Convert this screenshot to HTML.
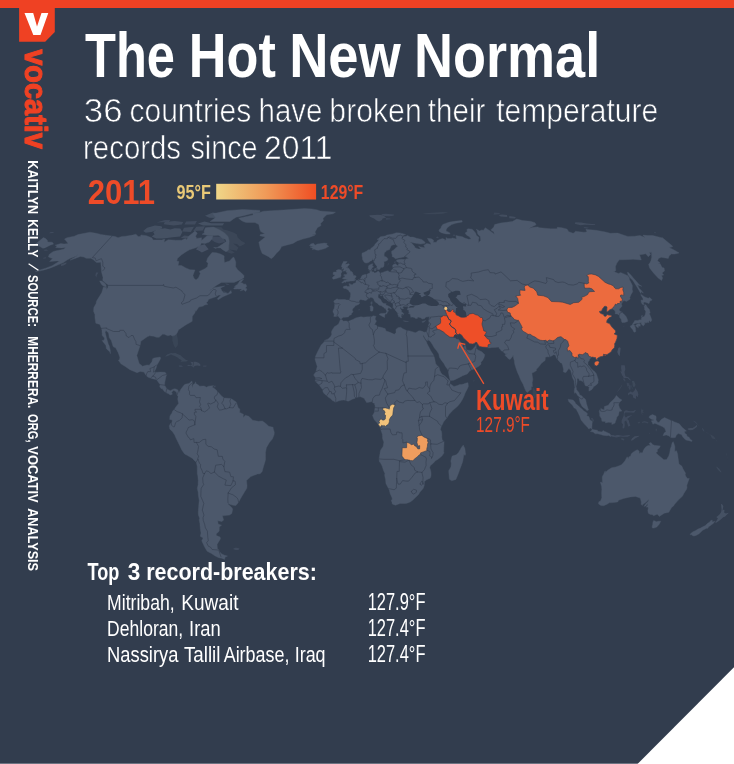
<!DOCTYPE html>
<html><head><meta charset="utf-8">
<style>
html,body{margin:0;padding:0;}
body{width:734px;height:764px;background:#323d4e;position:relative;overflow:hidden;}
svg{position:absolute;left:0;top:0;will-change:transform;}
text{font-family:"Liberation Sans",sans-serif;}
</style></head>
<body>
<svg width="734" height="764" viewBox="0 0 734 764">
<defs><linearGradient id="g" x1="0" x2="1" y1="0" y2="0"><stop offset="0" stop-color="#efd688"/><stop offset="0.5" stop-color="#f09a58"/><stop offset="1" stop-color="#f04e23"/></linearGradient></defs>
<rect x="0" y="0" width="734" height="764" fill="#323d4e"/>
<path d="M340.3,319.7L341.6,319.4L343.7,321.3L344.5,321.1L346.5,321.0L348.1,321.5L351.4,320.0L353.0,319.4L355.6,317.9L359.2,317.1L361.0,316.8L363.6,317.2L367.4,316.8L369.2,316.8L371.3,316.7L373.6,315.8L376.1,316.4L375.2,318.1L375.4,319.7L376.5,321.1L375.7,322.5L374.4,324.7L376.3,325.0L376.6,325.7L377.5,326.7L381.1,327.3L383.4,328.0L385.2,328.6L386.0,331.0L388.6,331.8L391.7,333.1L394.3,334.3L396.0,332.6L395.9,329.4L397.9,327.7L400.4,327.3L401.4,327.7L402.4,328.6L404.4,329.4L407.0,330.7L408.6,330.7L411.5,331.4L415.3,332.7L417.3,331.8L418.3,331.0L419.8,330.7L421.4,331.0L422.4,331.5L423.3,335.1L422.9,336.0L424.8,339.3L426.7,342.2L427.0,343.5L427.9,345.2L429.4,348.0L430.9,351.0L433.8,355.5L434.7,358.7L435.4,362.3L435.8,363.7L437.2,365.8L438.8,366.5L439.9,370.5L441.0,372.8L442.3,374.4L444.6,375.7L446.5,377.6L448.7,379.7L450.0,381.0L450.1,382.4L448.5,383.5L449.8,383.3L450.6,384.0L454.0,386.4L457.4,385.6L459.6,384.6L461.2,384.5L463.4,384.1L466.3,382.9L468.0,382.7L468.4,386.4L467.4,388.8L465.2,392.9L464.0,396.2L462.3,399.7L460.1,403.2L457.9,405.9L455.3,408.3L454.1,409.3L452.4,410.8L449.0,414.6L446.9,418.0L445.3,419.7L443.5,422.1L442.5,424.3L441.1,427.0L440.4,429.4L441.5,431.5L441.9,434.6L441.8,437.0L442.2,439.9L443.3,440.7L444.1,441.7L443.8,447.7L443.7,451.7L444.0,453.0L441.9,456.1L438.7,458.8L435.2,460.9L433.5,463.1L430.3,465.7L429.7,467.7L430.5,470.1L430.9,471.4L431.1,474.0L430.9,476.4L430.1,478.2L426.7,479.7L424.2,481.8L424.7,484.1L423.3,488.2L422.5,489.3L420.0,492.0L418.6,494.4L412.6,500.3L410.3,501.9L407.6,503.0L405.8,503.5L400.1,503.5L395.4,505.2L392.2,503.9L392.1,502.7L391.2,500.3L392.1,499.5L392.1,498.0L390.2,493.8L389.4,490.5L388.6,488.7L385.9,483.6L385.5,479.3L384.6,475.3L384.8,473.9L384.8,473.2L383.6,470.8L382.1,466.1L380.6,463.0L379.5,462.0L379.0,458.9L380.0,453.5L380.4,450.4L382.9,446.7L383.2,446.0L383.8,442.5L383.7,441.7L382.5,438.6L382.5,436.7L382.3,434.2L381.8,432.7L380.7,429.7L380.3,428.2L379.6,426.3L377.9,424.0L376.9,422.6L374.5,420.0L373.8,418.7L372.5,415.4L374.2,412.7L374.5,411.1L374.8,408.9L375.2,406.0L374.3,403.5L374.7,403.1L373.0,403.0L372.2,401.8L371.6,401.7L369.7,402.1L369.0,402.2L366.6,402.5L364.9,399.7L364.1,398.3L360.5,396.8L358.2,397.1L355.6,397.7L355.1,398.3L352.3,399.2L350.0,400.4L348.1,401.3L346.0,400.4L343.8,400.0L341.5,400.2L339.0,400.8L337.8,401.3L335.4,402.3L333.6,401.1L332.4,400.6L330.1,398.3L328.4,397.2L327.1,396.0L324.6,394.1L323.7,393.0L322.9,391.5L322.8,389.6L322.0,388.8L320.6,387.0L319.5,385.4L318.9,384.6L317.5,383.6L316.4,382.3L315.2,381.4L315.4,378.5L315.2,377.3L313.6,375.1L315.9,371.8L317.2,366.3L316.1,362.9L315.0,359.2L315.4,356.6L317.7,351.6L321.1,345.1L323.6,342.6L324.6,340.4L328.2,338.9L330.7,336.5L331.9,333.9L331.4,333.3L331.7,331.0L332.9,328.9L334.6,326.4L336.5,325.5L338.2,324.3L338.7,323.6L339.7,321.3ZM463.4,445.0L463.6,445.9L464.9,448.6L465.4,452.7L465.7,453.8L465.0,455.5L463.9,454.2L462.8,461.2L461.6,464.8L459.8,469.4L458.4,473.5L455.9,479.4L451.7,480.8L449.4,479.3L449.0,474.9L448.7,470.7L450.9,466.9L451.3,463.5L450.8,461.0L452.1,456.1L456.3,454.8L458.4,452.7L460.4,449.3L462.1,446.4ZM55.2,245.2L60.7,243.6L64.1,244.0L68.1,243.6L66.8,241.8L64.5,239.0L67.0,237.7L74.3,236.2L78.0,234.6L89.9,232.2L96.2,233.3L100.9,234.4L106.0,235.3L112.0,236.1L115.1,236.4L118.1,237.7L121.9,236.4L125.6,236.2L132.6,235.1L135.9,234.2L138.2,236.4L140.5,236.6L140.9,234.9L146.4,235.7L151.6,237.7L153.3,240.0L161.9,240.0L164.7,239.1L164.1,242.2L168.2,239.7L175.7,240.2L181.7,240.2L185.4,238.6L186.7,239.7L188.3,236.4L192.6,233.1L194.9,230.9L197.3,233.1L195.6,236.2L196.8,238.4L201.5,237.7L201.6,240.4L207.0,235.7L212.9,235.7L212.5,238.6L209.4,242.0L205.0,243.6L201.4,243.1L200.4,245.4L195.9,247.7L189.5,249.8L186.1,251.7L181.7,254.7L177.6,258.3L176.8,261.1L178.9,261.4L178.1,265.5L181.5,265.5L185.8,267.9L190.0,269.7L195.0,269.9L192.9,275.4L194.1,278.4L196.0,279.9L198.4,277.9L200.3,273.4L199.2,271.4L204.8,268.7L207.5,266.7L208.1,263.1L206.5,261.9L207.4,258.3L212.1,252.4L216.4,252.8L221.2,254.2L224.2,255.9L224.1,258.3L224.4,262.6L229.5,261.1L232.7,257.6L233.9,257.3L235.8,261.9L235.6,266.7L237.8,269.9L240.9,272.4L243.9,275.4L244.1,277.4L241.0,279.4L234.1,282.4L221.4,282.4L216.3,285.4L209.1,291.1L214.7,287.5L224.7,286.0L220.5,288.0L221.8,290.5L223.3,292.6L228.1,293.4L230.9,290.5L231.6,293.1L223.0,296.7L218.1,299.8L217.3,298.8L221.0,294.9L218.5,295.2L216.0,296.7L211.5,298.3L208.8,299.3L207.3,301.9L206.2,302.7L207.9,304.3L204.6,305.0L203.3,306.1L198.9,307.1L195.8,311.6L194.9,310.3L195.1,312.6L192.3,316.5L192.2,321.3L189.7,322.8L186.1,324.7L181.3,327.9L178.6,329.7L176.9,333.4L175.5,335.0L173.8,335.8L172.3,336.0L170.5,335.0L167.8,335.8L164.2,334.2L162.5,334.2L159.2,337.3L156.4,337.3L153.8,336.3L149.6,335.8L147.2,336.8L144.1,338.9L140.9,341.3L140.1,345.6L136.8,355.5L139.2,363.4L142.6,366.2L147.0,365.0L149.2,365.2L151.9,361.8L152.6,358.7L154.3,357.9L160.2,357.1L160.7,358.4L158.5,362.6L156.8,365.2L156.2,367.9L154.1,372.1L157.2,372.3L160.6,372.1L165.1,372.3L166.7,374.4L165.9,377.0L164.8,382.3L164.6,385.2L166.0,387.5L167.7,389.4L170.3,390.7L172.9,389.2L174.9,388.7L177.3,389.6L178.5,391.0L177.1,394.9L176.5,392.0L173.7,390.3L171.6,392.2L172.4,394.2L170.3,394.9L168.5,393.8L165.9,392.6L164.4,391.6L162.1,388.6L161.2,388.7L159.7,386.7L160.1,384.6L157.5,381.0L156.3,379.4L153.2,378.9L148.2,377.3L146.2,375.7L143.9,372.1L140.1,371.4L137.1,372.7L129.9,369.7L125.6,366.7L120.9,363.8L118.4,360.2L119.6,359.6L119.8,357.3L118.3,352.9L115.8,348.1L113.1,346.6L111.3,340.5L109.2,337.6L108.6,332.9L105.9,330.5L105.1,332.3L106.4,337.6L107.2,340.2L108.4,344.2L109.1,345.5L110.3,350.2L110.4,353.7L109.9,352.1L106.4,348.7L105.9,345.5L102.1,340.6L104.1,340.2L104.5,338.1L102.2,335.5L102.1,333.6L101.9,330.1L101.4,328.4L99.9,324.4L95.8,323.2L94.9,317.6L94.9,314.4L93.6,311.4L93.8,307.6L96.1,303.5L96.4,301.3L101.8,292.6L103.4,287.0L106.5,287.5L106.4,289.5L108.1,287.2L107.9,284.7L105.5,282.9L102.7,280.4L103.0,277.4L101.5,272.1L101.3,269.2L101.0,265.5L100.8,262.3L96.6,262.6L93.1,259.5L90.8,258.3L86.1,258.3L84.0,257.1L80.4,256.4L76.4,258.0L70.0,260.2L71.4,259.2L77.6,255.4L70.4,258.3L67.1,259.9L63.4,262.6L56.5,265.5L50.6,267.9L44.2,269.9L39.3,271.1L35.4,271.4L40.6,269.7L45.7,268.2L52.2,265.7L57.2,262.6L59.4,261.1L56.9,260.9L49.6,261.5L52.6,258.5L49.8,257.6L48.3,256.8L49.4,254.2L53.0,251.7L55.1,251.0L60.1,250.0L64.1,249.1L65.4,247.5L61.7,247.9L57.3,247.7L55.6,247.5L57.1,246.1ZM271.4,258.7L268.1,256.4L262.2,253.5L260.2,248.4L258.8,242.2L265.3,237.1L259.9,235.7L260.3,234.6L264.9,233.8L260.7,231.6L259.8,229.2L258.8,224.6L255.0,222.5L246.2,222.5L243.1,221.5L240.6,219.9L238.6,218.2L247.7,216.2L253.1,215.1L252.9,213.3L259.5,212.6L263.5,211.2L271.4,210.7L283.6,210.0L304.4,208.6L312.1,208.9L317.5,209.9L320.1,211.0L335.5,212.2L333.0,213.8L326.8,214.7L324.9,216.6L323.0,218.6L323.5,220.5L323.1,220.9L320.6,223.6L321.0,225.6L317.4,227.7L316.2,229.9L315.0,232.0L315.9,234.2L312.0,235.1L314.8,235.3L309.0,237.5L302.7,239.1L297.1,240.9L293.0,243.4L286.2,245.2L281.6,246.6L279.8,250.0L276.2,253.5L274.0,256.4ZM213.3,227.1L205.5,227.7L204.1,230.9L204.4,233.1L202.0,234.2L208.1,235.3L213.1,235.5L218.3,235.3L220.3,236.4L222.5,238.6L225.6,239.3L226.2,241.5L222.3,244.3L215.8,248.4L213.6,247.5L220.5,247.9L223.1,250.0L226.0,251.7L228.5,250.0L228.8,245.4L229.2,240.9L228.0,236.4L224.6,233.1L219.8,229.9ZM230.0,221.5L210.1,221.5L215.7,217.6L213.0,213.8L226.9,210.7L243.1,209.4L259.8,210.4L259.9,212.1L251.0,213.8L243.5,215.7L236.2,217.2L233.4,218.9ZM243.7,278.9L240.5,282.9L241.5,282.7L242.8,283.2L243.9,284.2L245.6,283.9L246.8,286.2L245.4,288.0L247.0,289.1L245.7,291.4L244.7,290.8L243.7,289.8L241.1,290.8L240.1,290.8L241.9,289.0L240.3,289.0L237.1,289.0L233.9,289.0L233.7,288.2L235.9,286.7L234.5,286.5L237.5,284.2L239.4,281.6L239.6,281.1L241.1,279.9ZM106.2,287.0L103.4,286.0L102.1,285.1L100.9,283.4L99.6,280.9L101.5,281.0L104.6,282.9L106.1,284.9ZM178.5,391.0L179.7,392.8L179.7,390.9L182.9,386.5L184.6,384.6L186.0,384.1L189.0,383.5L191.8,381.1L192.6,382.8L191.8,385.7L193.0,387.5L192.7,385.2L195.1,383.3L195.6,381.8L195.9,383.6L199.0,385.4L199.8,386.2L202.3,386.0L204.3,386.0L206.5,387.3L208.4,386.2L212.2,385.7L213.6,385.7L212.2,387.0L215.6,389.4L217.6,391.5L221.5,395.9L224.1,398.0L228.2,398.3L230.9,398.5L234.7,400.9L236.4,402.2L238.2,407.7L239.8,409.0L239.7,412.4L243.4,414.2L243.1,417.4L245.4,415.3L248.8,416.3L252.7,420.2L258.3,421.3L262.4,421.0L265.8,423.4L268.8,426.3L273.1,427.3L273.3,428.9L274.3,432.3L274.1,434.8L272.4,439.1L269.6,442.2L266.4,447.7L265.5,452.5L265.5,456.9L265.5,460.1L263.4,466.9L262.2,471.4L260.2,473.7L257.5,474.0L250.9,476.6L246.5,480.6L247.1,486.1L246.7,488.5L244.5,491.9L242.7,495.1L240.8,498.2L238.6,502.2L235.9,505.5L233.1,505.3L229.6,504.3L228.0,503.0L228.3,504.6L231.3,506.9L232.7,509.0L231.8,513.5L229.6,515.1L222.4,515.8L223.6,520.0L222.0,521.6L217.7,520.8L218.2,523.9L221.6,525.2L220.0,526.3L219.3,527.3L219.2,531.2L216.2,534.0L216.4,535.6L220.1,537.1L220.5,538.8L218.1,542.7L217.1,544.5L217.4,548.5L219.3,550.4L219.1,551.2L221.8,554.0L224.6,555.3L227.5,556.1L225.2,557.1L224.5,559.4L221.8,558.2L218.7,557.7L215.2,556.0L211.4,553.5L207.2,551.3L205.3,548.3L203.4,544.5L201.7,540.7L203.1,538.1L200.3,536.3L201.0,533.0L200.3,529.1L200.1,526.5L199.9,523.4L199.2,520.0L199.6,518.2L198.3,514.8L198.3,510.3L198.6,506.9L199.2,500.3L198.3,495.1L198.2,492.4L197.3,488.5L198.1,484.7L198.2,480.3L197.8,475.7L197.3,474.3L197.2,466.6L196.3,462.2L193.8,459.9L192.2,458.2L187.5,455.6L184.6,454.0L181.8,450.1L179.5,445.2L178.3,442.8L175.7,437.5L174.7,434.9L172.5,431.8L169.7,428.9L169.5,427.0L169.1,425.9L170.9,422.9L172.0,422.3L172.2,420.0L169.7,419.5L169.9,416.2L170.8,414.6L171.7,413.6L172.6,411.1L174.6,409.0L175.8,406.9L178.6,403.5L177.7,399.3L178.1,396.4L177.1,394.9ZM341.5,318.8L340.9,319.2L339.5,317.9L338.1,316.0L336.1,316.5L333.8,316.5L334.2,314.1L333.5,312.9L332.9,311.8L333.1,310.4L334.2,308.3L334.7,305.7L334.5,303.0L333.7,301.1L335.6,299.8L337.0,298.8L338.3,299.4L341.2,299.4L345.0,299.6L346.6,300.0L348.7,300.1L349.6,299.6L350.4,296.6L350.6,294.3L350.5,292.7L349.2,291.8L348.4,289.9L346.6,289.3L346.0,288.6L344.1,288.5L343.3,287.9L343.2,287.1L343.8,286.3L344.8,286.1L346.8,285.8L347.4,286.6L348.8,286.3L349.8,286.3L349.6,285.8L348.9,283.6L349.6,283.8L350.3,283.7L350.6,284.6L352.2,284.7L353.0,284.2L353.5,283.5L355.0,283.0L355.9,282.4L356.0,281.0L356.0,280.7L356.4,280.5L357.5,280.3L358.5,279.7L359.1,279.5L359.9,279.2L360.8,277.9L362.0,275.5L363.3,274.9L364.8,274.4L366.4,274.5L368.3,273.6L369.6,273.1L369.9,272.5L370.1,271.6L368.7,270.6L369.4,270.6L369.0,269.2L368.3,269.0L368.3,267.9L368.4,266.2L369.1,265.2L371.6,264.0L372.8,263.7L372.7,264.4L372.3,265.5L373.6,267.0L372.3,267.6L371.7,268.9L371.0,269.2L371.6,270.8L372.5,271.9L374.2,271.9L373.9,272.9L374.9,273.0L376.2,272.5L376.9,271.8L378.6,271.3L379.2,272.1L380.3,273.1L382.8,272.4L385.2,271.4L386.5,271.0L388.0,270.8L389.0,271.4L388.7,272.0L390.2,272.0L391.1,271.3L391.1,270.5L393.1,268.7L392.7,266.7L392.6,265.5L393.5,264.5L395.4,263.7L397.5,265.6L398.4,265.4L398.6,263.6L398.7,262.2L396.8,261.7L396.7,260.8L396.4,260.1L397.6,259.8L398.8,259.6L400.7,259.2L402.0,259.3L405.0,259.6L405.5,259.0L408.8,258.5L405.7,256.6L404.1,257.1L402.5,257.2L398.9,257.9L395.4,258.7L393.8,257.3L392.0,256.4L392.2,255.7L392.1,254.5L391.6,252.9L391.7,251.0L393.0,250.5L394.3,249.2L396.4,247.2L398.0,246.6L396.2,244.9L395.4,244.7L393.8,244.7L392.1,245.3L391.0,245.9L390.6,247.2L389.5,249.6L386.6,250.6L385.5,252.1L384.4,252.7L384.2,254.2L384.2,255.2L384.5,256.6L385.8,256.8L386.9,257.4L387.9,258.7L387.8,259.9L386.3,260.9L384.8,261.5L383.9,261.6L384.2,263.7L384.0,264.9L383.9,266.4L382.5,267.6L381.1,267.6L380.1,268.2L380.2,269.0L379.2,269.4L378.0,269.5L377.3,269.4L377.7,268.9L377.0,267.8L376.5,267.2L377.2,266.4L375.9,265.3L375.1,263.8L374.2,262.5L373.6,260.8L373.5,260.4L373.2,260.3L372.6,258.5L372.3,259.9L371.6,260.7L370.5,261.0L369.3,262.0L367.8,262.8L366.1,263.1L365.1,262.8L364.0,262.0L363.3,260.8L362.6,259.7L362.4,257.3L361.9,255.7L361.9,254.5L362.1,253.1L363.9,252.5L366.7,251.0L368.1,249.8L370.3,249.7L370.7,248.6L372.8,246.9L374.4,245.5L375.0,244.3L377.9,241.3L378.8,239.7L377.0,239.3L378.7,238.4L380.4,236.8L381.9,236.4L385.2,236.1L386.8,235.1L388.5,234.8L392.9,233.9L396.2,232.8L399.5,232.9L401.9,233.4L405.6,234.5L402.2,235.3L404.0,235.9L406.1,236.3L407.3,235.4L409.2,236.4L410.2,237.1L413.0,237.1L416.5,238.2L421.7,239.4L424.6,241.8L425.3,243.1L424.1,243.6L420.7,244.1L417.2,243.6L413.0,242.8L409.4,241.7L411.6,243.1L414.7,246.6L415.0,247.7L418.3,248.9L421.0,249.1L418.6,246.3L420.5,246.9L423.9,247.6L425.1,247.6L423.7,245.4L426.6,243.4L429.5,244.0L430.9,244.6L430.6,243.1L429.1,241.5L427.4,238.3L431.4,238.8L433.6,240.2L433.3,242.2L436.3,242.2L437.4,240.6L439.4,239.6L442.5,238.6L444.5,239.3L444.9,240.4L446.2,239.3L445.9,237.5L447.6,238.4L451.1,238.4L452.6,238.0L455.6,238.8L456.5,239.1L455.9,235.6L458.1,235.9L462.5,236.8L464.7,238.0L468.7,239.3L471.2,239.1L469.1,236.4L466.7,235.3L465.1,233.1L467.2,231.6L466.9,229.4L468.3,228.8L472.1,229.2L473.9,230.9L475.6,233.1L476.4,235.3L479.1,237.5L478.5,239.7L478.6,242.4L480.7,240.6L480.5,238.6L480.2,236.4L477.8,234.2L477.2,230.9L476.3,229.2L479.7,230.9L481.6,229.9L483.5,230.3L485.3,227.7L490.9,231.4L494.3,234.2L493.8,232.0L490.8,229.9L493.8,226.9L494.6,224.6L500.6,223.0L506.6,222.3L512.3,221.5L516.8,219.1L522.5,220.5L530.4,221.3L535.0,222.7L536.1,224.8L532.1,226.7L528.6,228.4L533.5,227.3L537.7,226.9L539.6,227.7L550.5,228.8L557.1,228.8L557.3,227.3L561.8,227.7L566.9,229.0L568.7,231.4L568.8,231.7L573.1,233.3L575.2,232.0L575.2,231.2L579.2,231.8L583.8,232.2L586.9,232.0L585.9,229.1L586.7,229.4L596.0,230.3L605.4,232.0L610.2,233.3L617.6,233.1L627.0,236.2L628.1,236.4L634.7,236.2L639.9,235.5L644.9,237.5L643.5,236.0L643.0,235.1L647.7,235.6L652.7,235.5L661.5,237.7L662.2,237.6L672.8,246.3L671.2,247.2L669.4,247.2L670.5,248.2L674.6,250.3L679.1,252.9L675.1,254.0L671.5,254.0L669.1,256.1L668.3,258.4L661.1,257.3L658.6,258.5L657.5,260.7L660.1,263.1L657.7,263.6L660.2,263.8L662.1,267.5L664.1,267.9L664.5,271.0L662.0,272.9L663.8,275.1L661.5,275.4L662.6,277.9L661.6,280.6L658.1,277.9L653.5,272.9L649.6,267.9L648.6,264.3L649.8,263.1L650.9,260.7L651.7,257.3L651.5,252.4L649.2,252.4L650.6,254.5L648.3,256.8L645.7,253.8L643.4,254.2L639.6,254.7L641.3,259.9L633.0,259.3L629.8,259.5L623.5,259.7L619.3,259.8L616.9,263.1L615.9,265.5L615.4,266.8L615.8,270.4L614.5,271.4L612.8,271.1L617.1,272.9L618.8,273.4L620.5,272.4L624.0,273.9L626.2,275.0L627.6,275.4L629.4,277.9L629.2,279.1L631.2,282.9L632.4,285.4L632.2,289.3L632.7,291.8L631.1,294.4L629.8,297.5L630.2,299.1L626.5,301.4L624.0,300.6L622.4,301.9L622.5,302.7L621.9,303.0L621.4,304.1L622.1,306.1L621.5,306.9L619.2,309.2L619.6,310.9L622.2,312.3L623.1,313.4L624.3,314.6L626.1,316.5L627.3,319.2L627.7,320.5L627.5,321.5L625.4,322.2L624.9,322.6L622.0,322.5L621.2,320.2L621.2,319.2L619.5,317.2L619.7,315.4L617.2,313.9L615.8,313.9L615.0,313.7L615.4,312.1L614.3,310.0L612.3,308.9L609.8,309.7L607.8,311.6L606.9,312.0L606.8,310.0L607.0,307.0L605.8,306.3L604.2,306.5L604.1,306.9L602.4,308.9L601.7,310.9L599.5,311.4L599.6,312.3L600.9,313.5L603.8,314.6L604.0,316.0L606.0,316.3L607.0,314.4L608.7,315.1L610.3,315.2L611.6,315.5L611.6,316.8L609.7,317.3L607.9,319.0L606.9,320.7L606.7,322.5L609.5,323.6L612.0,327.1L615.3,330.5L615.8,332.1L615.1,332.7L614.2,334.0L616.7,335.1L617.3,335.5L617.0,338.4L616.2,340.5L615.5,342.3L614.6,343.7L614.7,345.5L614.4,347.6L613.5,348.5L612.3,349.6L611.1,351.8L610.1,352.6L607.7,354.2L605.1,355.2L603.5,354.2L603.7,355.6L602.2,356.4L600.3,356.7L597.5,358.3L597.2,360.6L596.0,358.9L595.5,357.5L594.2,357.5L592.5,357.1L591.7,357.3L590.0,358.8L589.5,359.5L589.2,360.8L588.0,361.9L588.0,364.7L590.0,366.8L590.5,367.9L593.2,370.4L594.6,371.5L596.4,373.8L597.7,377.7L598.4,379.9L598.0,381.6L598.1,382.7L597.8,383.5L595.9,385.2L593.8,386.6L593.1,387.8L592.0,389.4L588.9,391.2L588.9,388.6L589.4,387.5L587.8,386.5L587.2,386.0L585.6,386.0L584.0,383.1L583.1,381.8L582.0,381.0L580.2,380.6L579.3,380.6L579.2,379.8L578.4,378.4L577.0,378.6L577.2,380.8L577.0,382.8L576.0,386.2L576.6,389.8L578.9,392.5L579.7,394.9L581.4,395.6L582.7,397.0L583.6,397.5L585.7,399.7L586.5,403.8L587.6,407.3L588.5,410.0L587.6,410.4L586.8,410.4L585.4,409.0L584.0,407.9L582.9,407.2L581.8,405.9L580.6,403.5L580.1,402.7L579.4,399.7L579.2,397.7L578.6,396.6L577.3,394.9L575.8,392.6L574.5,393.3L574.4,392.2L574.2,391.2L574.7,387.7L574.2,381.1L572.4,377.6L571.6,373.8L570.7,370.5L568.9,368.4L567.5,370.2L566.0,372.5L564.2,372.2L563.3,371.8L563.5,369.2L562.6,365.4L561.7,363.1L560.6,362.9L558.9,360.9L557.3,359.2L556.2,357.5L555.5,355.2L553.7,354.7L552.9,355.2L550.7,356.6L548.1,357.0L547.4,356.8L546.3,357.1L545.3,357.5L545.3,359.3L545.1,360.5L543.4,361.8L541.5,363.3L538.4,367.3L536.4,369.3L536.5,370.5L534.3,372.1L531.9,373.1L532.3,375.9L532.9,379.4L532.2,382.6L532.5,386.7L531.2,386.7L531.4,389.4L529.0,390.7L527.6,392.6L526.1,391.5L524.4,387.7L523.1,384.3L520.7,379.9L518.7,374.9L517.8,373.2L516.3,369.2L514.7,364.1L514.2,360.2L513.6,358.3L513.1,355.2L512.4,356.7L510.1,359.5L508.6,358.9L506.7,357.0L505.1,355.4L505.2,354.7L507.8,353.5L505.8,353.9L504.2,352.9L502.9,351.6L501.2,350.8L499.9,348.7L499.1,348.5L498.8,347.1L494.6,347.6L492.0,347.5L489.5,347.9L488.3,348.0L485.8,347.3L482.2,347.1L479.4,346.4L477.4,343.7L477.0,342.6L475.7,342.3L474.3,343.4L472.8,344.1L469.7,343.7L467.5,341.8L466.2,340.6L463.2,337.7L462.3,336.1L461.3,334.8L459.2,333.8L457.9,335.1L456.9,336.7L458.0,338.8L458.3,339.2L461.2,342.9L462.5,344.3L462.8,346.6L464.4,348.8L464.2,346.8L465.0,345.1L465.9,347.3L466.2,349.2L465.5,349.5L468.5,350.2L470.7,350.5L472.4,349.6L474.1,347.5L475.5,346.0L476.0,344.6L476.2,344.4L476.2,346.6L476.4,347.9L477.5,349.8L481.8,351.8L484.8,354.7L484.1,357.6L482.7,360.2L480.9,362.2L481.1,364.2L478.8,366.3L475.8,367.9L473.5,369.2L471.3,370.1L469.4,371.3L467.3,373.9L462.7,375.7L460.4,377.0L453.8,380.2L450.3,380.6L449.8,378.9L448.9,374.9L448.5,373.1L448.4,371.0L447.7,369.4L445.4,366.5L444.0,363.7L441.5,360.5L439.4,357.3L438.8,353.9L436.5,350.5L434.4,348.1L432.5,344.8L430.7,341.9L429.0,340.2L428.1,340.2L428.7,336.3L428.2,337.9L427.8,338.9L427.4,340.9L425.9,339.6L424.7,337.5L423.3,335.1L422.4,331.5L424.2,332.2L425.7,331.9L427.0,331.0L427.5,329.6L427.9,327.6L428.2,326.3L428.7,324.7L429.2,323.2L428.7,320.5L429.3,317.6L429.3,316.8L425.9,317.1L424.7,318.4L422.4,319.0L420.5,317.7L417.7,316.9L417.4,318.4L417.2,318.6L415.6,318.6L414.4,317.6L412.5,317.1L410.7,317.3L410.7,316.5L410.2,314.3L408.1,313.1L409.7,312.7L408.9,312.2L408.7,310.5L409.1,309.9L407.3,310.0L407.5,308.7L408.6,307.1L407.0,306.9L406.6,306.5L403.5,306.2L402.6,307.6L403.7,308.3L402.9,308.7L401.8,308.8L400.5,307.1L399.9,308.0L401.5,310.5L401.0,311.3L400.8,310.4L402.1,312.6L403.4,313.5L403.5,314.8L402.5,314.1L401.2,314.2L401.6,315.0L402.4,315.5L400.9,315.1L401.1,316.1L401.5,317.3L401.9,318.0L400.5,317.2L400.4,318.1L399.5,316.5L398.7,317.1L398.5,316.8L398.5,315.9L397.7,314.8L398.4,313.3L397.1,313.1L397.8,313.0L397.1,312.5L396.3,311.4L395.5,310.5L395.1,310.0L394.5,309.1L393.2,307.5L393.0,307.8L393.1,305.3L392.9,303.9L392.3,303.2L391.1,302.4L390.1,301.8L387.8,300.9L386.6,299.6L385.4,298.9L383.9,298.0L383.1,295.7L382.2,294.8L381.1,296.2L380.5,295.4L380.2,294.5L380.7,294.0L380.2,293.6L380.0,293.9L377.9,294.5L378.3,295.8L377.9,297.1L378.6,298.1L380.5,299.3L382.1,302.3L383.8,303.5L386.3,303.7L385.7,304.5L386.6,305.2L387.8,305.7L390.1,307.0L391.4,308.3L391.1,309.2L390.3,308.6L388.6,307.5L387.5,309.5L388.7,311.0L387.6,311.8L386.6,314.1L385.7,313.7L385.8,313.3L386.2,312.7L386.1,312.3L386.8,311.6L386.4,310.4L385.4,308.6L384.7,308.6L384.0,307.8L383.5,307.0L382.7,307.1L382.4,306.5L381.0,305.6L379.9,305.4L378.9,304.9L377.2,303.2L375.7,302.4L374.4,301.0L373.9,299.4L372.9,298.0L371.0,297.2L370.2,297.5L369.2,298.5L368.0,298.9L367.7,299.1L367.2,299.4L366.5,300.2L365.0,300.6L363.8,300.1L362.5,300.0L360.8,299.4L360.4,299.8L359.2,300.6L359.1,301.7L359.6,302.7L359.3,303.9L357.4,305.0L355.4,305.8L354.6,306.9L352.8,308.8L352.2,310.1L353.2,312.0L351.7,313.0L351.3,314.8L350.7,315.0L349.4,315.5L348.1,317.3L347.6,316.9L345.4,317.3L343.5,317.3L342.4,317.9ZM43.4,237.6L45.6,238.6L47.5,240.6L47.6,242.0L52.2,242.2L53.6,244.1L50.1,245.2L44.7,247.9L42.8,248.2L40.3,246.8L38.1,245.6L36.4,245.4L37.6,243.5L34.3,245.2L32.8,246.3ZM341.5,282.8L342.5,283.0L344.6,282.0L345.6,282.4L346.1,281.4L348.0,281.6L350.6,281.0L352.6,280.9L353.3,281.0L354.7,280.6L355.5,280.1L355.6,279.4L354.2,279.2L354.6,279.0L355.3,278.0L356.2,276.6L355.3,275.5L353.8,275.5L353.2,275.9L353.5,275.0L353.0,273.9L352.6,272.6L351.6,271.6L350.6,271.3L350.1,270.4L349.0,268.6L348.7,268.2L346.7,268.0L345.7,267.8L347.9,267.2L347.3,266.8L348.9,265.1L349.4,264.3L349.0,263.8L344.9,264.3L345.7,263.4L347.0,262.0L347.2,261.5L346.4,261.5L343.4,261.6L342.8,263.3L341.9,264.0L342.0,264.8L341.7,265.5L341.0,266.2L342.3,267.0L342.1,268.2L341.8,269.7L342.3,269.3L343.5,268.1L343.9,269.3L343.2,270.4L342.9,270.4L343.5,271.3L344.3,271.1L345.9,270.6L346.8,270.5L345.8,271.6L346.5,272.6L347.3,272.6L346.9,273.4L346.9,274.2L345.3,274.5L343.8,274.6L344.3,275.1L343.5,275.9L344.8,275.6L344.8,276.9L343.6,277.6L342.4,278.1L342.8,278.7L344.4,279.0L345.0,278.9L346.6,279.2L347.6,278.9L346.9,279.5L345.9,279.9L343.9,280.4L343.8,280.9L343.0,281.5L341.9,282.4ZM338.7,269.5L341.0,269.9L341.8,271.3L342.3,271.9L341.0,272.9L341.0,274.5L341.1,275.5L340.4,277.4L339.2,277.6L336.6,278.4L333.6,279.2L332.8,278.9L332.4,277.6L333.5,276.5L335.3,275.0L333.0,274.4L333.2,273.0L333.5,272.1L336.2,272.1L337.0,271.4L335.9,271.1L337.0,270.0ZM312.0,249.3L313.4,248.5L310.0,246.9L313.7,246.6L309.4,245.4L310.8,244.0L313.4,243.2L315.1,245.2L317.4,244.0L319.5,243.8L324.3,243.1L327.2,243.5L326.6,244.8L328.8,246.3L325.6,248.3L322.3,249.3L318.4,250.3L316.2,249.9L314.4,249.2ZM371.9,305.4L373.2,307.4L372.9,310.8L371.7,311.3L370.4,310.8L370.3,307.4L369.8,306.3ZM379.0,314.4L380.8,313.4L385.6,313.3L384.7,315.8L384.7,317.5L383.0,316.7L380.0,315.1ZM450.2,234.1L445.9,233.9L441.2,232.7L438.8,230.9L439.7,229.0L441.0,228.2L441.2,226.7L442.7,224.6L445.4,223.4L449.6,222.1L456.2,221.1L461.9,220.5L462.3,221.9L455.8,223.2L451.7,224.6L449.2,226.3L447.4,227.7L446.4,229.2L446.0,230.9L449.6,232.7ZM627.8,271.9L631.3,275.4L633.3,277.9L636.5,281.6L639.3,284.7L641.8,286.3L637.5,284.9L639.3,288.5L641.4,290.5L643.4,293.1L641.0,291.6L640.8,293.4L639.0,290.5L637.6,288.0L635.2,284.2L632.9,280.4L629.8,277.4L627.9,274.4L627.4,272.4ZM641.2,294.4L644.8,297.0L648.2,298.3L649.8,297.4L652.2,300.0L649.9,301.0L649.0,303.6L644.7,301.9L643.9,302.7L642.1,302.2L644.1,304.1L643.2,305.0L641.5,303.0L641.3,302.3L641.1,300.0L643.1,300.2L642.9,298.4L640.7,294.7ZM644.7,304.6L646.0,305.0L647.3,307.2L649.4,309.6L650.2,313.1L649.2,313.4L650.6,316.5L651.8,320.0L650.6,322.1L649.8,320.5L648.9,321.3L648.8,322.8L647.6,321.8L647.4,322.8L644.8,322.8L643.8,321.8L645.0,323.8L643.3,325.9L641.2,323.9L641.2,322.8L640.5,322.7L638.3,323.0L635.3,323.6L633.5,324.4L632.5,324.6L633.0,323.2L634.0,322.1L634.7,320.6L637.8,320.4L639.8,319.8L641.5,320.0L641.1,319.2L641.8,317.6L641.4,316.1L642.3,315.2L642.1,316.4L642.9,317.2L644.6,316.0L645.4,314.1L645.8,311.6L644.3,308.9L644.6,308.2L643.9,305.4L645.3,306.5ZM635.4,326.1L636.4,324.8L636.8,324.2L638.8,323.5L640.2,323.9L640.3,324.4L640.2,326.4L638.6,325.7L638.2,327.9L636.6,326.5ZM632.6,324.6L634.5,325.3L634.8,326.4L635.6,328.2L635.6,330.0L635.9,331.4L634.7,332.3L633.7,331.7L632.8,329.7L632.1,328.9L631.4,328.1L631.3,328.2L630.1,326.1L630.9,325.7L631.7,325.3ZM673.3,441.7L674.9,446.4L674.8,451.4L676.5,450.7L677.7,454.2L678.1,458.0L679.0,464.1L681.8,466.1L683.1,469.1L685.6,473.2L685.2,474.4L685.8,476.2L687.5,478.6L689.3,478.5L687.6,483.0L686.8,485.6L687.0,487.6L686.7,488.9L684.0,493.2L682.4,496.3L678.3,500.1L676.2,502.6L674.6,504.2L673.6,505.9L671.7,507.4L669.5,511.0L668.9,512.2L664.3,513.2L659.3,516.4L658.1,515.1L657.2,514.3L653.6,515.7L652.1,514.5L650.3,514.4L648.3,513.2L647.8,510.7L648.3,508.0L647.8,507.0L646.1,507.2L647.7,505.3L647.6,503.5L645.8,506.0L643.9,506.4L646.3,503.0L646.8,502.7L648.4,500.9L648.7,499.0L647.7,500.5L645.8,502.2L644.2,503.5L642.2,504.9L642.3,505.6L641.1,504.3L641.3,502.1L640.7,499.8L640.1,498.1L635.5,496.4L630.3,496.9L623.5,498.5L618.6,500.3L617.8,501.9L613.3,502.6L609.2,502.8L607.5,504.0L603.7,505.7L601.0,505.6L598.5,503.9L598.8,501.8L600.5,501.1L601.8,497.7L601.6,493.2L601.8,489.3L601.6,486.4L600.4,482.3L601.1,481.9L602.5,483.0L602.3,479.0L602.3,476.6L603.5,474.4L605.2,470.8L605.4,472.4L607.4,470.4L611.6,467.8L615.8,466.9L619.1,465.8L621.5,464.8L623.8,462.2L625.0,460.7L627.2,456.7L628.4,459.0L628.7,456.9L630.7,456.1L631.2,454.0L633.3,451.9L637.2,449.7L639.1,450.9L639.3,454.0L639.9,452.7L641.5,452.7L642.9,452.5L643.0,450.9L644.9,447.7L646.6,446.3L648.1,445.6L650.4,445.4L649.1,443.3L651.0,442.5L652.7,444.6L654.2,445.2L656.0,445.6L660.3,445.9L659.2,448.3L657.5,449.3L657.3,451.9L655.9,452.3L656.8,453.8L658.5,455.3L660.3,456.7L663.9,459.8L666.6,459.5L668.7,455.9L669.7,452.7L670.4,448.5L671.2,446.8L671.6,444.8L672.3,442.5ZM653.7,520.5L656.5,521.7L658.1,521.3L660.8,521.2L660.4,522.1L659.1,524.4L657.4,526.3L656.9,527.0L653.9,528.1L652.4,528.0L652.1,526.3L652.7,524.4L652.9,522.1ZM712.2,520.0L712.3,522.0L714.8,521.3L713.5,523.3L711.2,525.0L708.7,526.8L707.5,528.6L707.1,528.1L702.7,530.2L700.9,532.0L699.1,533.8L696.0,535.4L694.0,536.0L692.8,535.8L691.8,534.8L690.1,534.7L690.7,533.5L693.0,531.7L695.3,530.7L698.0,529.1L700.6,528.0L702.8,526.8L705.0,525.7L705.9,525.1L707.6,523.3L709.8,522.0L710.5,520.8ZM649.6,415.9L652.4,414.6L655.9,415.9L656.2,417.6L656.0,420.0L657.7,422.3L659.0,422.5L661.2,419.5L664.6,417.6L666.5,418.5L670.9,420.4L672.2,420.8L674.5,421.9L677.4,423.0L679.3,423.8L682.1,427.3L684.2,429.1L686.5,431.0L684.5,431.4L684.8,433.3L686.7,434.6L687.0,436.2L689.1,437.3L690.3,439.3L692.2,440.5L691.7,441.6L689.2,440.7L685.9,440.1L684.2,438.6L682.9,437.0L681.4,434.5L678.2,433.6L676.3,435.2L676.0,435.9L675.4,437.5L673.1,437.8L670.4,437.5L669.1,435.9L666.2,434.9L663.0,435.7L664.1,433.1L666.0,431.5L664.6,428.1L662.2,426.5L660.0,425.6L654.9,423.2L652.9,424.2L651.8,421.4L651.0,421.0L654.4,420.0L651.5,419.2L649.0,417.6ZM616.4,395.4L619.4,398.4L622.0,400.1L619.2,402.6L618.6,405.1L619.6,407.9L621.9,411.1L619.2,411.6L618.5,415.3L616.9,417.1L616.2,419.7L615.4,421.5L615.1,423.1L611.8,424.6L611.8,422.6L608.2,422.3L605.5,422.9L605.3,421.5L601.9,421.3L601.5,418.5L599.7,416.1L599.7,413.7L599.2,411.3L600.7,408.3L602.4,409.3L604.2,410.0L604.4,406.5L608.2,405.3L610.4,402.2L612.4,400.6L614.8,398.0ZM568.0,399.2L573.0,400.0L574.9,401.9L575.8,403.8L578.6,406.1L580.7,408.1L582.2,409.3L583.9,411.1L585.7,412.1L587.5,413.7L586.7,415.8L588.9,416.6L589.9,419.7L592.4,421.5L592.1,423.9L591.8,429.0L590.6,428.1L588.8,429.1L587.5,427.3L583.9,423.6L581.1,420.0L579.7,416.2L578.2,412.9L576.1,409.1L573.9,407.7L572.5,405.2L569.9,402.8L568.8,401.7ZM592.1,429.3L594.0,429.7L597.4,430.2L597.9,431.4L599.1,431.6L601.9,431.9L603.1,430.4L604.2,431.2L605.6,431.8L607.1,432.5L609.9,433.8L610.7,435.2L610.8,436.6L608.6,435.4L606.8,435.7L603.0,435.3L600.8,434.4L598.6,434.0L597.8,433.8L595.2,433.8L593.1,432.0L590.4,431.5L591.6,430.4Z" fill="#4c586b" stroke="#4c586b" stroke-width="0.4" stroke-linejoin="round"/>
<path d="M176.9,333.4L176.8,334.2L177.8,338.9L178.0,343.7L177.4,346.0L175.3,347.9L173.8,345.2L172.4,340.8L172.4,337.3L172.3,336.0L173.8,335.8L175.5,335.0ZM532.7,388.1L533.5,388.0L535.9,391.3L537.3,394.1L537.5,395.9L534.8,398.2L533.8,397.9L533.0,395.6L532.6,392.8L532.8,390.1ZM725.8,451.9L726.7,454.3L727.0,456.7L728.0,460.1L727.4,457.2L726.2,454.6ZM751.7,457.2L754.6,456.1L754.3,457.4L751.7,458.2ZM630.7,388.8L631.6,384.4L632.0,386.0L631.3,388.1ZM631.5,388.4L633.0,387.3L633.3,388.2L632.0,388.7ZM648.7,433.3L650.1,432.5L649.5,434.6Z" fill="#4c586b" opacity="0.3"/>
<path d="M245.2,242.9L241.4,240.9L237.7,237.5L236.7,234.2L233.4,232.5L227.8,230.5L223.4,229.4L221.4,227.3L213.3,227.1L205.5,227.7L204.1,230.9L204.4,233.1L202.0,234.2L208.1,235.3L213.1,235.5L218.3,235.3L220.3,236.4L222.5,238.6L225.6,239.3L226.2,241.5L222.3,244.3L215.8,248.4L213.6,247.5L220.5,247.9L223.1,250.0L226.0,251.7L231.5,253.8L234.8,252.4L229.6,249.6L235.9,250.5L236.0,251.4L238.5,247.7L233.1,243.6L237.0,244.0L239.8,246.6L244.3,244.3ZM422.6,213.7L428.4,213.1L435.6,212.6L442.7,212.1L448.4,212.6L442.4,213.8L435.1,214.2L425.9,214.2ZM705.9,431.5L708.0,433.3L713.0,435.7L715.0,438.0L716.0,440.7L717.8,442.0L715.2,439.3L712.2,438.6L710.1,434.6L706.9,433.1ZM617.0,391.7L618.6,389.6L620.6,386.7L622.3,383.9L621.7,386.5L619.7,389.6L617.6,391.7ZM640.9,411.1L641.9,407.9L642.4,410.0L643.8,409.8L642.7,411.6L644.0,412.9L642.0,412.7L642.7,415.5L641.6,414.2L641.3,412.4ZM637.6,422.1L639.9,421.8L640.3,423.1L638.2,423.6ZM655.8,428.6L657.1,429.1L656.5,431.8L655.5,430.2Z" fill="#4c586b" opacity="0.35"/>
<path d="M178.4,365.9L179.5,365.2L181.7,365.5L183.1,366.5L181.5,366.9L179.7,366.9ZM203.2,365.6L206.8,365.6L206.2,366.7L203.1,366.7ZM357.8,309.9L359.3,308.9L360.0,309.5L359.2,310.5ZM385.9,219.7L391.4,219.3L389.6,218.2L385.9,218.0ZM493.5,214.7L499.0,214.2L500.1,213.1L494.2,212.6ZM472.4,380.8L474.0,380.5L475.1,380.8L473.4,381.5ZM623.0,326.3L624.3,325.6L624.5,326.3L623.4,326.5ZM693.7,420.5L695.9,422.1L698.2,424.9L698.6,426.3L697.6,424.7L695.2,422.6L693.4,421.3ZM701.9,427.8L703.4,429.1L704.6,431.5L703.2,431.2L702.1,429.1ZM748.1,459.3L750.9,459.5L750.4,461.4L747.7,461.4ZM622.5,378.5L624.6,378.6L625.5,380.7L625.0,381.8L623.9,380.5ZM626.6,382.6L629.5,383.6L629.3,386.0L627.3,386.4L626.9,384.9ZM628.3,387.8L629.6,384.9L630.7,385.4L630.5,389.4L629.7,390.0ZM590.7,418.1L592.9,417.9L594.0,420.5L593.7,421.8L592.0,420.5ZM641.9,422.1L644.4,421.0L648.4,422.3L647.9,423.4L644.3,422.6L642.1,422.9Z" fill="#4c586b" opacity="0.4"/>
<path d="M165.0,356.4L167.4,354.2L169.8,353.4L171.2,353.0L173.0,353.3L175.3,353.1L177.4,353.9L180.5,355.2L182.3,357.1L184.3,358.4L185.3,359.5L187.6,360.4L188.3,360.6L186.1,361.6L184.6,361.4L180.3,361.7L181.8,360.4L180.4,359.5L179.0,358.7L177.0,357.1L175.9,356.7L175.0,355.9L173.4,355.5L171.7,355.0L171.2,354.2L169.0,355.5L167.1,356.3ZM716.6,466.4L719.3,468.7L721.6,472.2L720.5,472.2L717.9,469.8L716.4,467.4ZM631.8,381.0L634.1,381.0L635.6,384.9L634.5,386.7L634.1,387.5L633.5,387.0L632.6,385.2L632.6,383.6ZM620.8,438.6L623.1,438.2L624.7,439.9L623.3,440.5L620.9,439.2Z" fill="#4c586b" opacity="0.45"/>
<path d="M213.4,236.4L220.9,236.8L224.5,239.7L225.1,242.0L219.1,243.6L214.6,242.0L211.5,239.7ZM168.8,222.1L156.4,222.5L164.7,219.9L170.3,219.9ZM96.2,277.9L96.7,275.4L98.5,272.6L96.0,272.4L95.3,275.4L96.1,277.1ZM46.1,258.3L46.0,257.3L43.3,257.8L43.3,258.7ZM48.2,250.5L46.5,249.6L43.3,250.0L44.9,250.7ZM229.9,285.2L227.8,283.7L224.9,283.2L226.5,284.7ZM227.5,292.0L225.1,291.8L223.0,290.5L223.5,291.7L225.5,293.1ZM213.5,387.4L215.5,387.3L215.7,385.4L214.0,385.7ZM232.9,549.0L234.9,547.8L237.0,547.8L239.6,548.5L238.4,550.0L235.5,550.0ZM387.3,265.5L388.3,263.3L388.9,263.3L388.3,264.8L387.5,265.6ZM393.9,262.3L394.5,261.6L396.2,261.6L395.6,262.5L394.5,263.1ZM381.0,214.1L386.2,213.8L394.0,214.5L393.6,215.7L389.1,216.2L384.4,215.9ZM452.5,235.5L453.7,234.4L455.7,235.1L454.4,236.0ZM435.8,237.5L437.1,236.4L439.0,237.3L437.6,238.2ZM583.4,228.0L584.7,226.9L589.0,227.7L587.2,228.4ZM653.9,232.9L654.9,232.0L656.7,233.3ZM50.7,232.0L53.3,231.9L54.0,232.7L50.6,233.3L48.9,233.3ZM635.1,409.8L635.9,409.4L633.2,411.1L630.9,411.2L628.7,411.1L626.4,410.3L625.9,410.2L624.1,411.6L623.8,413.7L623.7,415.5L622.5,418.4L621.6,420.6L621.6,423.0L623.0,424.2L622.5,427.2L622.7,428.4L624.2,428.2L624.8,425.6L624.5,421.5L626.1,420.6L627.6,424.3L628.1,426.4L629.5,426.3L630.5,425.2L629.8,424.0L629.2,422.3L628.8,420.5L627.2,418.9L630.5,416.2L631.8,416.1L631.6,415.3L627.8,415.9L625.8,417.4L624.6,415.8L624.4,413.7L625.3,412.4L627.5,412.4L631.0,412.4L633.2,412.8L634.4,412.4L635.9,409.9Z" fill="#4c586b" opacity="0.5"/>
<path d="M195.0,224.4L184.4,224.4L186.2,221.5L196.9,221.1ZM621.2,365.2L624.7,365.2L625.4,369.2L624.5,371.8L624.9,374.4L625.6,376.5L628.4,377.3L631.4,380.8L629.4,379.7L627.4,378.1L625.2,378.1L623.8,378.0L622.9,376.3L623.5,375.7L622.5,375.9L620.8,372.3L620.3,370.9L621.6,371.7L621.1,367.9ZM635.3,388.1L637.6,391.5L638.4,394.6L637.6,397.2L636.0,395.6L635.9,399.0L633.1,397.5L632.7,394.9L631.1,394.3L629.8,394.1L628.2,395.6L628.1,393.0L629.8,392.2L630.8,391.2L632.1,392.5L633.0,392.0L633.7,391.5L634.8,390.1ZM610.9,435.0L613.4,434.9L614.5,435.4L615.8,435.5L616.6,434.9L618.8,434.9L620.8,435.4L623.0,435.7L625.5,435.4L629.6,434.9L630.0,435.4L627.7,436.7L624.3,436.7L622.7,436.7L620.7,436.6L618.7,436.9L616.1,437.4L614.1,437.0L612.4,436.7L610.9,436.1Z" fill="#4c586b" opacity="0.55"/>
<path d="M202.8,230.5L193.3,230.9L196.4,226.7L204.9,226.3ZM190.8,232.0L182.1,231.4L184.1,227.7L194.0,226.7ZM181.8,224.6L173.6,225.6L163.6,224.2L164.8,222.1L174.6,221.1L183.2,222.1ZM187.3,238.4L180.7,238.0L184.1,235.5L188.9,236.0ZM66.1,264.0L66.6,262.6L64.7,263.1L61.2,264.3L60.9,266.0L63.4,265.5ZM187.1,365.6L189.4,365.9L191.4,366.0L193.1,367.2L193.7,367.6L194.5,366.0L197.2,365.4L199.9,366.0L200.7,365.0L199.0,363.1L195.9,361.8L193.8,361.7L192.5,361.9L189.9,361.7L191.3,362.7L191.8,365.1L190.4,365.4L188.0,364.8ZM371.5,269.2L373.3,269.0L373.5,270.2L372.4,270.3ZM402.8,320.4L404.2,320.4L407.4,320.9L408.7,321.1L408.4,321.8L405.4,321.9L402.9,321.1ZM401.0,311.4L402.3,312.0L404.3,313.4L404.4,313.9L402.6,312.9L401.5,312.1ZM379.1,221.5L376.6,220.5L374.0,218.6L369.9,216.8L369.4,215.3L374.3,215.1L378.0,214.7L382.7,215.3L386.3,217.4L382.6,218.6L382.0,219.9ZM500.7,216.6L507.3,217.0L506.9,215.1L502.3,214.4L498.5,215.1ZM509.2,218.2L515.0,218.6L515.8,217.0L509.4,216.1ZM574.7,223.8L575.4,222.3L581.3,222.5L586.5,223.6L595.4,224.2L594.8,225.0L584.8,224.8L580.4,225.2ZM687.7,428.4L690.4,428.1L692.6,428.1L695.0,426.5L696.9,424.7L697.0,426.8L694.9,428.4L692.5,429.9L689.8,430.2L687.8,429.4ZM630.7,440.8L632.1,438.2L634.7,436.3L639.7,435.7L638.7,436.6L635.4,438.3L632.8,440.3Z" fill="#4c586b" opacity="0.6"/>
<path d="M145.8,232.7L143.2,230.9L147.1,227.7L154.9,225.6L161.6,226.3L162.3,228.2L156.3,230.3L151.4,232.0ZM218.5,218.0L209.3,217.8L205.0,215.7L212.9,212.6L219.1,213.8ZM372.1,300.9L372.5,303.0L371.9,305.0L370.6,303.7L370.5,302.4L371.3,301.7ZM421.5,321.7L422.9,320.9L426.2,320.1L424.9,321.7L423.1,322.8L421.9,322.5Z" fill="#4c586b" opacity="0.7"/>
<path d="M172.6,237.3L180.1,236.4L182.4,232.0L180.3,228.4L174.7,228.2L170.3,229.4L164.8,228.2L157.0,229.4L153.1,232.0L154.6,234.2L151.8,236.4L156.2,238.4L163.1,238.4ZM222.6,225.4L203.1,225.4L198.0,223.6L204.5,221.5L211.2,223.2L224.1,223.2ZM374.0,268.7L376.2,267.7L376.9,268.7L376.2,269.9L376.1,271.0L374.3,271.1L374.1,269.9ZM721.2,504.0L721.9,504.0L723.3,506.1L723.1,507.8L722.4,510.5L724.0,509.5L724.5,510.6L724.1,512.4L725.8,513.5L728.9,512.7L726.2,515.3L725.2,516.6L722.6,517.4L722.8,517.8L718.9,521.1L715.8,522.9L715.3,522.1L716.5,520.8L717.9,518.6L716.3,516.9L717.5,516.2L719.7,514.3L721.2,511.9L721.6,509.3L721.3,506.7L721.2,505.6Z" fill="#4c586b" opacity="0.75"/>
<path d="M208.7,249.3L207.8,248.2L204.6,244.3L198.5,246.1L196.0,249.6L198.5,250.5L201.9,252.6ZM619.4,347.3L620.6,348.1L620.3,350.8L619.9,354.5L619.9,356.3L618.2,354.5L617.3,352.1L618.0,349.2L618.3,348.0ZM598.4,360.9L599.3,362.3L598.5,364.4L596.7,366.0L594.6,365.2L594.2,363.1L595.4,361.6L596.8,361.0Z" fill="#4c586b" opacity="0.8"/>
<path d="M413.0,305.6L414.2,305.6L418.7,304.9L422.6,303.5L425.4,303.4L428.2,305.3L431.5,306.1L435.2,306.1L436.9,306.0L438.9,304.4L438.8,303.1L437.1,300.9L434.2,299.3L432.7,298.0L429.9,296.5L428.8,296.0L427.3,295.2L428.9,294.9L430.1,293.0L430.1,291.3L431.1,290.0L428.5,290.4L427.1,291.2L423.3,292.7L424.6,294.7L426.9,294.8L424.9,295.7L424.1,296.1L422.5,297.0L421.8,297.2L421.2,296.7L420.7,295.2L418.9,294.8L421.1,292.9L419.4,292.9L416.4,291.7L414.9,291.8L414.5,292.9L413.2,295.2L411.4,297.8L410.1,300.4L409.5,302.2L410.7,303.9ZM408.4,307.6L409.9,306.2L410.9,305.9L413.0,306.1L415.0,306.7L413.2,307.5L411.1,307.6L409.7,307.8ZM448.2,293.9L450.9,292.3L452.8,291.8L455.6,290.8L457.7,290.8L459.7,291.1L460.7,294.7L457.5,294.9L456.7,296.7L455.4,297.0L457.7,299.2L459.7,301.4L461.6,302.7L462.4,303.5L466.0,304.0L466.1,306.6L462.9,306.3L463.4,308.7L463.2,310.0L464.7,310.5L466.0,312.6L466.4,315.8L466.9,316.8L464.1,317.3L460.6,317.2L457.1,315.2L455.5,312.9L455.4,312.0L455.9,310.3L456.0,308.2L456.7,307.8L457.8,307.8L456.8,307.1L456.2,307.1L454.3,304.8L452.6,303.3L450.6,300.9L449.9,298.8L448.3,296.7Z" fill="#323d4e"/>
<path d="M591.8,274.0L595.6,274.9L598.5,276.4L605.0,282.3L608.4,283.9L610.3,284.4L613.2,285.7L614.8,288.0L615.8,288.8L618.8,288.8L620.2,287.7L622.4,287.1L622.9,287.0L623.0,288.8L622.8,289.8L623.7,292.3L623.8,295.4L620.9,294.9L620.2,296.0L621.6,298.3L622.3,299.6L621.7,301.3L622.2,302.3L620.1,301.0L620.3,302.3L619.2,303.5L617.5,303.5L616.6,304.8L615.4,304.1L614.5,306.2L613.0,307.4L612.2,308.8L609.8,309.7L607.8,311.6L606.9,312.0L606.8,310.0L607.0,307.0L605.8,306.3L604.2,306.5L604.1,306.9L602.4,308.9L601.7,310.9L599.5,311.4L599.6,312.3L600.9,313.5L603.8,314.6L604.0,316.0L606.0,316.3L607.0,314.4L608.7,315.1L610.3,315.2L611.6,315.5L611.6,316.8L609.7,317.3L607.9,319.0L606.9,320.7L606.7,322.5L609.5,323.6L612.0,327.1L615.3,330.5L615.8,332.1L615.1,332.7L614.2,334.0L616.7,335.1L617.3,335.5L617.0,338.4L616.2,340.5L615.5,342.3L614.6,343.7L614.7,345.5L614.4,347.6L613.5,348.5L612.3,349.6L611.1,351.8L610.1,352.6L607.7,354.2L605.1,355.2L603.5,354.2L603.7,355.6L602.2,356.4L600.3,356.7L597.5,358.3L597.2,360.6L596.0,358.9L595.5,357.5L594.2,357.5L592.5,357.1L591.7,357.3L589.3,356.3L588.6,356.0L587.9,353.7L585.1,352.6L584.0,353.9L582.3,354.7L579.0,354.2L578.3,355.0L578.1,358.3L576.5,357.2L574.5,357.5L572.0,355.8L572.0,353.3L569.9,350.5L567.5,351.0L567.2,348.1L568.9,345.8L567.7,341.3L566.1,339.7L564.6,339.6L561.0,336.7L558.9,337.1L556.9,337.9L555.6,339.4L553.4,340.8L552.4,340.8L549.4,340.0L546.9,341.6L546.7,342.1L546.1,340.2L544.7,340.5L542.3,340.5L540.1,340.2L537.6,338.9L535.1,337.1L532.7,336.0L530.1,334.2L528.2,334.4L526.0,332.9L523.5,331.5L522.5,330.7L521.1,328.4L522.3,327.9L521.4,325.7L518.5,320.5L518.1,320.5L514.5,319.6L512.1,316.8L510.2,315.9L510.8,315.9L510.1,312.9L507.7,312.3L506.8,310.1L507.0,308.9L508.5,307.5L512.0,307.4L514.8,306.1L518.5,303.3L518.1,301.1L517.7,298.5L515.8,296.0L520.7,295.2L519.9,294.1L519.9,290.0L525.1,290.4L524.2,287.0L525.7,285.2L526.6,285.1L527.6,284.9L529.8,287.0L533.3,288.2L536.7,291.8L537.8,295.2L543.3,295.8L547.9,297.6L551.4,301.5L558.9,301.8L562.7,302.2L570.2,304.5L573.7,302.7L578.7,302.3L582.3,299.1L581.3,297.5L584.5,296.3L587.7,294.5L588.7,292.3L590.0,291.7L594.6,291.4L591.9,288.8L589.4,288.1L587.0,288.2L584.5,288.1L584.2,286.0L584.2,283.3L586.8,284.0L588.8,282.9L588.3,281.4L588.4,278.7L588.2,276.5L586.8,276.0L587.7,274.6L589.9,274.1Z" fill="#ec6b3e" stroke="#323d4e" stroke-width="0.6" stroke-linejoin="round"/>
<path d="M598.4,360.9L599.3,362.3L598.5,364.4L596.7,366.0L594.6,365.2L594.2,363.1L595.4,361.6L596.8,361.0Z" fill="#ec6b3e" stroke="#323d4e" stroke-width="0.6" stroke-linejoin="round"/>
<path d="M447.4,316.1L448.9,319.4L450.5,320.0L451.1,321.5L450.2,323.0L449.8,323.5L449.8,324.4L451.6,326.8L454.6,328.5L455.8,330.2L455.7,332.3L456.6,333.6L457.9,335.1L456.6,335.0L456.0,334.7L454.8,335.0L453.8,337.3L449.8,337.1L445.8,334.2L443.6,332.1L439.7,329.8L437.1,329.3L435.9,326.1L440.3,323.4L440.6,322.5L440.7,320.2L440.2,318.1L442.2,316.3L443.5,315.6L445.6,315.8Z" fill="#ee4f28" stroke="#323d4e" stroke-width="0.6" stroke-linejoin="round"/>
<path d="M446.4,309.5L448.0,311.3L450.4,311.6L452.7,309.6L453.9,310.3L453.4,311.7L455.5,312.7L456.3,315.0L457.1,315.2L459.0,316.1L459.9,316.8L461.5,317.3L464.1,317.3L466.7,316.8L466.5,315.6L468.3,315.4L469.3,313.9L471.2,313.7L473.0,313.3L475.8,314.8L477.8,315.2L480.4,317.5L482.1,317.5L482.3,317.7L482.9,320.2L482.0,323.6L482.2,325.3L482.7,326.8L483.9,331.0L485.8,331.3L486.2,332.7L484.6,335.4L487.4,338.8L489.4,339.6L489.7,342.2L491.0,342.5L490.8,343.8L488.1,344.8L487.9,347.6L485.8,347.3L482.2,347.1L479.4,346.4L477.4,343.7L477.0,342.6L475.7,342.3L474.3,343.4L472.8,344.1L469.7,343.7L467.5,341.8L466.2,340.6L463.2,337.7L462.3,336.1L461.3,334.8L459.2,333.8L457.9,335.1L456.6,333.6L455.7,332.3L455.8,330.2L454.6,328.5L451.6,326.8L449.8,324.4L449.8,323.5L450.2,323.0L451.1,321.5L450.5,320.0L448.9,319.4L447.4,316.1L446.7,314.7L446.1,313.0L444.9,310.3L445.6,310.1Z" fill="#ee4f28" stroke="#323d4e" stroke-width="0.6" stroke-linejoin="round"/>
<path d="M377.9,424.0L379.7,423.1L379.0,421.3L379.9,420.0L381.1,418.7L382.2,420.0L384.2,420.1L385.4,418.7L385.4,417.1L385.6,415.3L384.1,414.2L385.1,412.4L384.2,410.6L382.9,410.4L382.8,407.9L385.6,407.9L388.3,408.6L389.2,409.3L389.4,407.9L390.1,405.5L392.3,404.3L394.8,404.5L394.8,405.9L393.7,407.9L393.2,411.1L392.8,415.0L390.9,417.0L389.4,419.5L389.4,421.5L388.7,424.0L387.1,425.1L385.3,426.4L383.8,425.3L383.1,426.5L382.4,425.7L381.7,425.2L381.3,426.5L380.4,426.8L379.9,426.8L379.6,426.3Z" fill="#f2c27a" stroke="#323d4e" stroke-width="0.6" stroke-linejoin="round"/>
<path d="M406.8,442.2L409.7,443.3L411.2,444.8L413.9,444.1L414.8,445.9L416.6,446.4L417.0,447.7L417.8,448.8L419.6,448.9L419.7,445.6L417.9,446.2L416.9,442.5L417.3,439.9L417.3,438.0L416.8,437.8L417.9,435.9L422.1,435.2L422.7,436.2L424.8,437.4L427.0,438.3L427.8,438.8L427.5,441.4L428.6,441.4L427.6,444.1L427.4,446.4L426.7,449.3L427.2,450.4L423.3,451.9L420.4,453.0L420.8,454.7L419.4,454.7L417.2,456.9L414.8,458.8L412.9,460.7L410.4,460.6L409.1,460.3L407.4,459.7L404.9,459.8L401.9,456.1L402.2,447.7L406.6,447.7Z" fill="#ef9d5e" stroke="#323d4e" stroke-width="0.6" stroke-linejoin="round"/>
<path d="M604.2,354.5L605.7,354.5L606.0,355.9L604.5,355.9Z" fill="#ee4f28" stroke="#323d4e" stroke-width="0.6" stroke-linejoin="round"/>
<path d="M453.8,337.3L454.8,335.0L456.0,334.7L456.7,335.1L457.3,336.1L456.9,336.7L458.0,338.8L456.5,338.8L455.8,337.6Z" fill="#323d4e" stroke="#323d4e" stroke-width="0.6" stroke-linejoin="round"/>
<path d="M348.1,321.5L349.2,323.1L349.2,327.1L350.2,329.4L346.6,329.4L345.0,330.5L344.8,332.6L342.0,335.0L338.7,336.0L334.0,338.4L333.9,341.1M324.0,341.1L333.9,341.1L333.8,345.5L326.5,345.5L326.4,352.2L324.1,353.4L323.9,354.1L324.0,357.8L315.3,357.8M333.9,342.1L342.2,348.1M342.2,348.1L338.4,348.1L340.3,370.5L340.9,371.0L340.5,373.1L332.0,373.1L331.9,372.6L328.9,373.2L327.1,372.7L325.4,375.1M315.9,371.8L319.3,370.1L322.0,371.5L325.4,375.1M325.4,375.1L327.2,381.2M315.1,378.1L319.2,377.6L321.9,378.6L319.2,379.1L315.2,379.4M315.3,381.4L319.1,380.5L322.1,380.6L322.0,383.1L319.1,385.0M322.1,380.6L327.2,381.2L328.8,382.6L331.9,381.2L334.1,384.9L334.8,387.0L334.1,388.8L335.6,391.7L334.1,393.8L331.7,393.8L331.4,391.7L329.6,391.5L328.9,390.0L327.6,387.5L324.7,387.8L322.8,390.0M329.6,391.5L326.9,395.5M334.1,393.8L335.8,398.3L335.7,402.3M345.8,400.4L346.6,393.0L346.7,388.8L346.4,384.9M334.8,387.0L338.9,386.0L340.4,386.4L342.4,388.3L345.6,387.8L346.6,388.8M346.4,384.9L352.5,384.6M352.5,384.6L354.2,392.0L354.4,396.4L355.5,397.7M354.8,384.9L356.4,390.1L356.5,397.3M360.9,383.1L361.5,387.5L359.0,393.3L358.9,397.0M352.5,384.6L354.8,384.9L358.2,382.6L360.9,383.1M340.4,386.4L340.9,382.8L342.9,380.5L345.6,377.8L348.3,376.5L351.2,374.3L353.2,374.6M353.2,374.6L355.0,378.6L357.7,381.2L358.2,382.6M353.2,374.6L360.6,373.4L362.3,369.4L362.2,363.5M342.2,348.1L355.3,358.4L355.5,359.5L359.9,361.8L360.1,363.9L362.2,363.5M362.2,363.5L365.7,362.7L369.4,359.1L379.2,352.1M379.2,352.1L375.3,349.2L373.4,345.2L374.3,344.2L374.4,340.2L373.4,334.4M373.4,334.4L372.3,329.4L370.6,328.4L368.8,325.0L370.5,321.8L370.3,317.9L371.0,316.7M373.4,334.4L375.0,330.5L377.5,328.6L377.5,326.7M379.2,352.1L385.9,353.4M385.9,353.4L406.1,362.6M406.1,362.6L406.1,361.3L408.3,361.3L408.0,356.0M408.0,356.0L407.0,337.1L406.2,334.4L407.0,330.7M408.0,356.0L434.3,356.0M385.9,353.4L388.0,358.7L387.2,361.3L387.4,369.4L383.3,375.7L382.9,377.8M360.9,383.1L361.0,380.8L362.0,378.4L368.3,379.7L372.3,379.8L375.2,378.9L380.8,379.4L382.9,377.8L384.4,379.4M384.4,379.4L384.7,381.2L383.4,384.9L381.9,389.1L380.3,392.0L379.4,395.1L376.7,395.3L374.9,395.9L372.9,398.4L372.2,401.8M384.4,379.4L385.6,380.5L386.6,384.9L387.7,387.7L384.2,388.6L387.8,394.1M387.8,394.1L390.2,393.6L394.7,392.6L395.6,390.4L398.8,389.9L401.6,386.0L404.3,385.0M406.1,362.6L406.4,372.6L404.0,373.1L403.2,376.5L402.4,380.5L404.3,385.0M404.3,385.0L406.2,390.1L407.3,390.9M407.3,390.9L408.9,388.1L412.5,388.8L415.9,389.2L419.2,387.5L422.1,388.2L423.3,388.1L425.7,384.9L425.4,382.3L427.4,381.8L427.3,385.7L429.6,388.8L429.6,391.2M429.6,388.8L430.0,386.0L431.4,382.8L433.8,380.5L434.6,376.3M434.6,376.3L435.3,369.2L438.8,366.5M434.6,376.3L437.6,374.7L440.1,375.5L444.2,376.8L448.0,381.0M448.0,381.0L446.8,384.9L449.3,385.0L450.0,383.6M449.3,385.0L449.5,386.2L451.9,390.1L458.8,392.8L461.0,392.8L454.4,400.6L449.9,401.7L447.7,403.0L447.5,403.4M447.5,403.4L445.0,402.7L442.1,404.7L438.9,404.3L436.2,402.2L434.0,401.7M447.5,403.4L445.5,406.4L445.5,416.1L446.7,418.0M429.6,391.2L427.2,393.3L430.7,396.2L432.5,399.6L434.0,401.7M434.0,401.7L429.6,402.7L428.5,403.9L426.0,403.9L423.3,403.8L422.5,404.5M422.5,404.5L419.4,401.7L417.0,402.5L414.8,400.5M414.8,400.5L412.4,396.7L409.4,393.8L407.3,390.9M414.8,400.5L409.9,400.6L407.9,400.4L404.5,401.1L403.4,403.0L399.3,402.2L396.8,400.4L394.8,402.5L394.8,404.5M387.8,394.1L385.3,398.0L385.8,400.6L386.7,403.2L389.4,407.9M375.0,407.6L378.3,407.9L382.8,407.9M378.3,407.9L378.4,411.1L375.0,411.1M380.7,429.7L382.6,429.0L390.1,429.0L390.9,432.5L392.5,434.9L396.4,434.6L396.8,432.0L399.1,432.0L399.3,432.8L402.0,432.8L402.2,435.4L402.0,438.8L402.8,439.6L402.9,443.0L406.5,442.2M380.3,428.7L382.2,425.7M379.0,458.9L383.8,459.3L393.8,459.3L399.6,460.7L404.9,459.8M399.6,460.7L399.5,461.6L405.1,462.2L407.1,460.9L409.1,460.3M399.5,461.6L399.2,471.4L397.0,471.4L396.7,478.6M396.7,478.6L396.3,488.2L394.1,489.7L390.6,489.0L388.6,488.7M396.7,478.6L398.0,484.1L400.2,484.1L402.6,480.6L406.0,481.1L408.7,481.1L411.9,477.4L415.3,472.9L417.6,471.9M417.6,471.9L414.7,470.2L414.2,467.4L411.0,464.8L409.1,460.3M417.6,471.9L421.9,472.4M421.9,472.4L424.5,469.5L425.3,467.4L426.1,465.6L426.0,462.2L426.4,459.0L426.0,457.4L422.7,455.6L420.8,454.7M421.9,472.4L423.1,477.7L422.8,481.8L422.9,484.0L424.7,484.1M411.3,491.4L413.6,489.3L416.4,490.1L416.5,492.2L413.7,494.1L412.1,493.2L411.3,491.4M420.1,484.0L421.6,481.2L422.9,481.9L422.9,484.0L421.1,485.3L420.1,484.0M427.2,450.4L429.8,451.4L430.1,453.8L429.4,455.6L431.6,456.9L431.5,458.5L432.8,455.6L433.1,452.7L431.0,449.0L430.6,444.1L431.3,443.9M427.0,438.3L429.1,439.1L430.5,439.9L430.6,444.1M431.3,443.9L437.1,444.3L439.3,443.3L443.8,441.2M441.4,425.9L438.0,422.9L437.8,421.5L429.5,416.3M429.5,416.3L429.7,413.2L430.8,410.8L431.9,408.7L430.5,404.5L429.6,402.7M429.5,416.3L421.8,416.4M422.5,404.5L422.4,407.7L423.6,408.1L421.8,410.6L420.5,411.6L419.7,415.3L419.7,417.4M419.7,417.4L421.8,416.4L422.5,419.8L421.7,420.0L420.6,419.8L418.4,420.8M422.5,419.8L421.5,422.3L419.2,425.3M419.7,417.4L418.8,419.5L418.4,420.8L418.8,422.6L419.2,425.3L419.6,429.9L422.1,435.2M112.0,236.1L92.3,257.6L95.2,258.0L96.1,260.9L99.1,259.5L101.5,258.7L102.8,262.1L102.8,266.2L105.0,267.9L103.8,269.7L102.6,270.9M107.7,285.4L163.2,285.4L163.6,284.4L163.9,286.2L168.7,287.2L173.4,288.0L175.9,287.2L181.8,290.8L182.2,291.8L183.6,293.1L185.0,294.9L183.3,300.9L181.2,303.0L182.0,304.3L190.1,301.4L190.4,300.2L192.8,299.3L196.5,298.0L200.0,295.7L207.2,295.7L208.9,294.7L210.3,293.4L211.5,291.3L213.7,289.4L215.4,289.7L216.2,290.3L215.2,293.9L215.6,294.9L216.3,296.0M101.4,328.4L106.7,327.9L106.3,328.4L113.5,331.5L119.6,331.5L119.9,330.3L123.6,330.3L125.9,333.4L126.3,336.0L129.0,337.6L131.0,335.5L133.1,335.6L134.6,339.4L135.9,341.6L136.1,344.4L140.1,345.6M146.2,375.7L146.6,373.8L147.8,371.6L150.7,371.6L149.9,368.5L154.2,367.0L154.2,366.7L156.3,365.2M154.2,367.1L153.5,372.1L154.1,372.1M155.6,372.6L153.2,376.0L150.9,377.7M152.7,376.0L155.6,377.3L156.0,378.6M156.9,379.7L159.8,377.6L162.5,375.5L166.7,374.4M160.1,384.6L164.6,385.2M165.9,392.6L166.8,388.7M178.5,391.0L177.1,394.9M193.5,362.1L193.3,365.0L192.9,366.4M192.6,382.8L190.3,384.4L188.8,386.2L188.4,389.6L189.6,391.7L189.4,394.2L190.4,395.4L194.6,395.4L196.0,397.7L200.4,397.5L199.5,401.9L200.7,404.8L199.5,406.4L200.9,407.7L201.5,410.6M201.5,410.6L201.1,409.3L195.0,409.3L195.0,410.8L196.6,412.0L194.4,412.3L194.4,414.2L195.9,416.6L194.8,424.7M182.5,414.0L184.8,416.1L187.3,418.4L189.1,420.1L192.3,419.7L194.3,420.8L194.8,424.7M174.6,409.9L177.1,411.6L180.3,412.7L182.5,414.0M171.3,422.6L171.4,425.2L173.2,426.6L174.4,426.8L175.6,422.6L176.9,421.5L179.4,420.5L182.1,417.8L182.5,414.0M194.8,424.7L188.2,427.6L187.6,429.4L186.3,431.8L186.0,433.1L188.3,437.3L190.0,438.6L190.3,439.9L193.8,438.6L194.1,442.5L196.3,442.4M196.3,442.4L198.6,446.4L198.1,449.6L197.5,452.5L197.1,453.8L198.7,456.1L197.6,459.0L197.9,459.5M197.9,459.5L196.2,461.8M197.9,459.5L199.6,463.5L200.7,464.5L200.4,467.2L201.9,470.1L203.1,473.6L204.6,473.5M196.3,442.4L199.2,442.5L202.9,439.6L205.8,439.3L205.9,444.3L208.2,446.3L211.4,446.8L214.2,449.0L217.2,449.8L218.3,456.3L222.4,456.4L222.8,459.0L224.8,461.4L224.1,465.6L223.8,466.5M223.8,466.5L221.5,464.4L215.7,465.2L214.4,472.0M214.4,472.0L211.0,473.6L208.7,471.6L206.4,470.8L204.6,473.5M204.6,473.5L202.7,477.9L203.0,482.7L203.7,484.5L201.2,488.2L201.0,490.6L200.8,496.4L202.5,500.3L203.8,503.5L203.1,506.4L202.3,510.1L204.0,515.1L203.0,517.7L203.3,520.5L204.6,524.2L205.4,527.8L207.4,531.2L207.6,534.0L207.8,537.4L208.3,540.7L206.6,542.7L208.4,546.3L210.4,547.0L212.1,549.5L216.9,549.9L219.2,550.3M219.1,551.2L221.0,556.8M214.4,472.0L218.5,476.1L223.2,478.7L226.3,480.1L224.9,485.1L230.0,485.6L230.9,485.5L233.1,480.8M223.8,466.5L224.9,471.6L229.6,472.2L230.9,476.6L233.4,476.8L233.1,480.8M233.1,480.8L234.9,481.0L235.4,482.6L235.3,484.9L231.5,487.8L228.2,493.0M228.2,493.0L227.8,499.0L228.0,502.7M228.2,493.0L231.9,494.5L232.8,494.7L236.6,497.4L237.9,499.0L238.6,502.2M201.5,410.6L204.7,411.9L208.1,409.5L209.5,407.9L207.7,403.8L208.1,403.0L210.7,404.0L215.0,401.9L215.7,400.1M215.7,400.1L214.2,398.1L214.8,396.2L216.8,395.1L218.0,392.0L217.6,391.3M215.7,400.1L217.4,401.9L218.2,403.5L217.3,406.9L219.4,410.2L221.7,409.8L225.1,408.7M223.8,398.0L223.4,400.6L221.7,403.2L223.3,404.9L225.1,408.7M230.9,398.5L229.8,400.9L230.8,404.3L229.4,407.6M225.1,408.7L226.4,408.9L229.4,407.6M229.4,407.6L233.2,407.9L236.1,403.0M452.1,292.1L450.7,291.3L446.6,287.2L445.8,286.8L446.3,282.1L448.9,281.4L452.4,278.5L457.6,279.1L460.6,280.6L462.8,281.4L468.2,280.3L473.8,280.9L470.6,277.9L471.4,275.4L471.1,273.1L478.5,272.0L483.7,270.4L488.4,269.7L489.9,272.6L494.8,272.9L495.1,274.1L501.0,271.9L504.0,274.6L510.5,280.8L517.1,280.4L522.0,283.9L526.6,285.1M461.4,304.0L464.2,302.6L467.8,305.3L468.9,305.3L466.9,295.7L471.6,294.3L477.6,297.2L480.0,299.6L485.9,299.1L488.8,300.9L489.2,303.5L491.2,305.6L494.3,306.6L495.9,305.2L497.9,303.5L499.4,302.7L504.4,302.4L504.0,300.9L505.5,300.4L508.7,301.4L515.9,301.4L518.5,303.3M468.9,305.3L471.0,305.3L472.4,302.2L476.7,303.0L477.6,305.0L481.3,305.8L483.2,308.7L487.5,311.4L492.9,313.9L493.2,315.6M482.9,320.2L485.3,321.0L486.7,319.6L489.4,318.4L491.3,315.1L493.2,315.6L495.9,316.0M495.9,316.0L496.4,316.5L499.1,316.3L500.5,314.2L500.9,312.9L502.8,313.1L504.2,317.3L507.3,315.4L510.8,315.9M495.9,316.0L496.6,313.4L494.3,309.7L497.2,308.2L499.2,306.2L500.3,308.7L498.1,310.0L503.0,310.5L506.8,310.1M499.4,302.7L498.7,304.8L501.4,304.8L504.7,306.6L502.7,307.6L499.2,306.2M484.6,335.4L488.3,336.5L491.8,336.5L496.4,335.2L496.1,332.6L499.0,331.5L501.9,330.0L501.7,326.8L502.8,326.5L502.3,324.4L504.7,324.3L505.1,321.3L504.4,318.1L507.7,316.8L510.4,316.5L510.8,315.9M502.9,351.6L504.1,350.0L508.9,349.7L507.7,346.3L506.1,344.2L504.5,342.9L506.1,340.2L509.4,340.4L511.1,337.6L511.7,335.1L513.9,332.1L513.2,330.5L514.8,328.9L512.1,327.1L511.3,326.5L510.3,322.8L514.4,323.1L516.7,321.8L518.1,320.5M528.2,334.4L526.8,338.1L529.4,339.2L534.5,341.9L537.6,342.2L540.3,343.9L545.5,344.4L544.7,340.5M546.7,342.1L549.0,343.7L554.0,343.3L553.4,340.8M549.8,356.6L549.6,355.8L548.1,352.9L547.9,350.0L546.2,348.4L545.8,346.0L547.3,344.7L549.3,345.2L549.8,347.3L555.6,348.1L555.5,350.0L553.4,350.5L553.7,352.1L554.8,353.5L556.0,351.6L557.4,356.0L557.7,357.9L557.3,359.2M557.4,356.0L558.6,355.2L558.3,350.8L560.4,347.0L560.9,343.9L562.7,342.1L564.6,339.6M574.8,360.4L573.5,361.0L570.4,362.1L570.2,365.2L573.1,371.5L572.5,374.2L575.3,379.1L575.6,382.8L575.0,386.6L574.7,387.7M574.8,360.4L576.5,357.2M574.8,360.4L576.1,362.6L577.6,362.6L577.8,367.3L580.1,366.0L581.3,366.7L584.3,365.8L586.3,368.1L586.8,370.7L589.0,373.6L589.1,376.0L588.4,376.3M588.4,376.3L583.5,376.4L582.6,378.1L584.0,383.2M578.3,355.0L580.9,358.7L583.2,358.9L584.5,360.2L583.7,362.1L586.8,364.7L590.4,369.2L593.2,373.4L593.7,375.2M588.4,376.3L590.2,376.1L593.7,375.2M593.7,375.2L594.0,381.5L591.9,383.1L590.5,383.3L591.6,385.4L589.1,385.0L587.8,386.4M578.7,396.8L581.1,398.9L582.6,398.7L583.3,397.3M600.7,408.3L600.6,411.1L602.7,411.5L605.6,411.1L606.5,409.9L609.9,410.4L612.1,409.9L612.3,407.8L613.2,407.2L614.1,404.8L613.9,402.7L618.5,402.7M671.5,420.5L670.4,437.5M527.6,284.9L530.6,283.0L532.6,281.8L534.8,280.9L539.0,281.5L545.9,283.5L547.0,281.6L546.3,277.6L553.7,279.6L554.8,281.4L558.1,282.5L562.4,282.0L564.5,282.4L568.6,284.6L573.2,285.1L577.2,283.9L578.9,282.3L584.2,283.3M619.6,314.4L619.8,313.1L622.1,312.3M447.4,316.1L448.9,319.4L450.5,320.0L451.1,321.5L450.2,323.0L449.8,323.5L449.8,324.4L451.6,326.8L454.6,328.5L455.8,330.2L455.7,332.3L456.6,333.6L457.9,335.1M334.5,303.7L335.9,303.9L339.2,303.6L340.0,304.5L338.5,306.1L338.4,308.2L337.1,309.6L338.1,311.6L338.1,313.4L337.0,315.1L337.2,316.0M349.1,300.0L351.4,301.1L354.2,301.4L355.8,301.9L356.4,302.2L359.3,302.3M368.2,298.8L368.6,297.9L366.9,297.2L366.3,295.4L367.1,293.4M367.1,293.4L366.5,292.1L365.1,292.6L365.1,291.6L366.9,289.3L368.1,289.0M367.1,293.4L368.8,293.2L369.9,292.0L371.1,293.5L371.6,291.8L373.2,291.6L373.9,290.8M368.1,289.0L370.1,288.5L372.0,289.1L372.1,290.4L373.9,290.8M368.1,289.0L368.0,287.7L369.1,285.4L365.5,284.3M365.5,284.3L364.3,284.0L362.4,282.5L361.1,283.0L361.0,282.1L359.1,281.0L357.8,280.1M359.4,279.5L361.3,279.5L362.6,279.2L364.3,280.0L364.0,280.9L364.6,281.0M364.6,281.0L365.3,282.1L364.9,282.7L365.7,283.4L365.5,284.3M364.6,281.0L365.0,279.4L364.6,278.2L366.1,278.0L366.6,277.2L366.6,274.7M369.4,270.6L371.0,270.9M380.3,273.1L380.8,274.6L380.3,275.7L381.4,276.5L381.7,278.6L382.3,280.1L382.0,280.8M382.0,280.8L381.0,280.4L378.4,281.9L376.7,282.1L377.7,283.2L377.7,284.4L380.3,286.1M380.3,286.1L378.8,287.4L378.9,289.3L377.3,289.0L373.8,289.3L372.0,289.1M380.3,286.1L382.2,286.5L382.7,285.4L384.9,286.1L386.7,286.5M373.9,290.8L375.0,291.2L377.2,290.4L377.8,291.3L380.5,291.8M380.5,291.8L382.3,292.1L384.4,291.3L385.3,290.9M385.3,290.9L386.1,290.5L385.8,288.8L387.2,288.0M386.7,286.5L387.2,288.0M382.0,280.8L383.0,280.8L384.4,281.4L385.0,281.3L385.9,282.7L387.8,282.1L390.3,284.2M390.3,284.2L388.9,285.2L387.1,285.8L386.7,286.5M390.3,284.2L392.2,284.9L392.8,284.7L394.6,284.4L397.7,285.2M397.7,285.2L397.9,283.9L400.3,280.8L399.1,279.1M399.1,279.1L399.1,277.6L398.1,277.1L399.4,276.1L398.2,273.0M398.2,273.0L396.8,272.0L390.9,271.8M396.8,272.0L396.4,270.5L393.6,269.8M398.2,273.0L400.0,273.1L402.1,272.1L402.4,270.6L404.1,269.7L403.6,268.7M392.9,267.8L394.8,267.0L400.1,266.8L403.6,268.7M403.6,268.7L406.4,267.6L405.1,264.8L404.4,264.2M398.6,263.4L400.9,263.0L402.8,264.2L404.4,264.2M404.4,264.2L405.1,263.3L404.4,262.3L404.0,261.1L404.6,260.7L405.1,259.6M404.1,257.0L406.0,255.4L407.3,254.2L409.6,252.4L410.0,251.4L406.7,249.4L407.6,248.6L405.7,247.0L406.0,244.9L403.7,242.2L404.9,240.4L401.9,238.6L402.5,237.4M402.5,237.4L402.9,236.4L400.4,235.1L397.2,236.0L396.9,237.1L395.9,238.3L392.4,238.2L389.3,236.8L388.1,237.4M388.1,237.4L393.8,239.9L393.5,240.9L393.9,241.5L394.9,243.8L395.5,244.7M388.1,237.4L387.3,238.8L384.0,238.6L381.4,241.5L379.9,243.6L378.4,244.0L378.7,245.4L377.2,247.5L378.0,247.8L374.6,249.8L374.9,251.2L375.0,254.2L376.3,255.1L375.2,255.9L375.9,258.0L374.7,258.6L374.5,259.2L374.2,260.9L373.5,260.4M402.5,237.4L404.2,236.1L405.4,235.7M387.2,288.0L390.5,288.5L392.9,287.6L397.1,287.0M397.1,287.0L398.7,288.0L397.0,289.5L395.6,292.3L393.8,292.7M393.8,292.7L391.0,293.4L387.9,293.2L386.1,291.8L385.3,290.9M397.7,285.2L397.1,287.0M398.7,288.0L402.8,288.8L406.0,287.4M406.0,287.4L407.4,288.5L409.5,290.8L410.1,294.5L413.0,294.7M406.0,287.4L408.4,286.8L411.1,288.1L413.7,292.1L411.4,292.3L410.1,294.5M399.2,297.8L399.7,298.7L404.9,299.2L408.0,297.9L411.3,298.9M393.8,292.7L396.6,295.3L396.4,296.2L398.6,296.5L399.2,297.8M399.2,297.8L398.7,298.8L400.1,300.4L398.9,302.7L400.4,305.2M400.4,305.2L403.5,304.6L405.3,305.4L406.9,305.2L407.3,304.3M407.3,304.3L409.0,303.3L410.7,303.5M407.3,304.3L408.0,305.3L407.0,306.7M400.4,305.2L398.3,305.8L396.3,306.3L395.8,308.4L394.6,309.5M396.3,306.3L395.3,305.2L395.3,303.7L394.1,302.0L393.2,302.0L392.8,303.7M398.9,302.7L397.2,302.8L395.3,303.7M394.1,302.0L394.7,301.3L392.2,299.6L392.9,298.3L391.8,297.2L392.2,296.0L391.5,296.0L391.6,294.9L391.0,293.4M391.5,296.0L387.2,295.0L384.8,295.2L384.9,296.2L386.6,298.3L389.1,300.7L390.8,302.2L391.0,300.4L392.2,299.6M380.4,294.5L382.1,294.4L383.9,294.4L384.6,292.6L386.1,291.8M380.5,291.8L379.9,292.6L380.5,293.8L380.7,294.1M399.1,279.1L402.1,278.0L406.2,278.9L410.4,279.4L412.9,279.6L413.4,277.7L415.0,277.6M406.4,267.6L410.4,268.3L411.9,268.9L412.0,270.9L413.2,272.3L416.2,274.2L414.0,274.9L415.0,277.6M415.0,277.6L418.8,277.0L420.2,278.5L422.5,280.3L423.2,282.0L426.9,282.0L428.1,283.2L432.4,283.9L432.2,285.8L432.4,288.4L429.7,289.0L429.7,290.3M434.9,299.8L440.2,300.4L443.1,301.9L444.7,301.5L447.0,302.2L448.8,303.7L450.9,305.3L452.2,305.6L453.2,303.9M438.9,304.8L441.0,304.5L443.0,305.8L446.1,305.4L449.3,305.9L448.8,303.7M443.0,305.8L444.0,308.4L446.4,309.5L450.3,311.6L450.0,310.0L447.9,308.7L446.1,305.4M428.9,319.3L430.4,318.5L430.4,317.1L433.1,316.9L438.7,316.3L442.2,316.3M435.9,326.1L432.0,328.9L429.5,327.9M429.3,322.7L430.9,323.9L429.5,326.0M428.0,326.8L429.2,326.4L429.2,328.6L429.2,331.0L428.6,336.1M426.6,331.5L428.5,336.3M428.6,336.7L431.0,337.1L432.4,335.4L434.0,335.0L434.9,333.6L432.5,331.0L436.7,329.7L437.1,329.3M448.4,370.7L449.1,368.1L451.3,368.1L456.3,368.5L457.7,369.3L459.7,366.0L462.0,365.0L468.4,363.9M468.4,363.9L474.8,361.3L475.8,356.0L474.6,354.2M474.6,354.2L468.8,353.5L466.3,350.2M474.6,354.2L475.5,350.2L475.7,348.5L476.5,348.3M468.4,363.9L471.3,370.1M464.4,348.8L465.3,349.2" fill="none" stroke="#323d4e" stroke-width="0.7" stroke-linejoin="round" stroke-linecap="round" opacity="0.85"/>
<ellipse cx="445.8" cy="308.4" rx="1.5" ry="1.7" fill="#f0c27a"/>
<rect x="0" y="0" width="734" height="8" fill="#ef4123"/>
<rect x="0" y="763.2" width="640" height="0.8" fill="#9aa0aa" opacity="0.7"/>
<polygon points="734,667.3 637.5,764 734,764" fill="#fff"/>
<polygon points="19.1,8 54.8,8 54.8,32 45.2,41.7 19.1,41.7" fill="#ef4123"/>
<path d="M24.5,13 L33.2,13 L37.0,26.5 L41.5,13 L48.3,13 L40.5,35 L33.3,35 Z" fill="#fff"/>
<rect x="216.2" y="183.8" width="99.9" height="15.7" fill="url(#g)"/>
<g stroke="#ee5430" stroke-width="1.3" fill="none"><path d="M483.8,383.9 L459.3,343.1 M457.7,348.8 L459.3,343.1 L465.3,344.4"/></g>
<text transform="translate(85.00,76.90) scale(0.8030,1)" font-size="63" font-weight="bold" fill="#ffffff">The</text>
<text transform="translate(188.78,76.90) scale(0.8289,1)" font-size="63" font-weight="bold" fill="#ffffff">Hot</text>
<text transform="translate(289.15,76.90) scale(0.8622,1)" font-size="63" font-weight="bold" fill="#ffffff">New</text>
<text transform="translate(414.07,76.90) scale(0.8575,1)" font-size="63" font-weight="bold" fill="#ffffff">Normal</text>
<text transform="translate(83.83,121.90) scale(1.0712,1)" font-size="32.5" fill="#ffffff" stroke="#323d4e" stroke-width="0.65">36</text>
<text transform="translate(129.48,121.90) scale(0.9240,1)" font-size="32.5" fill="#ffffff" stroke="#323d4e" stroke-width="0.65">countries</text>
<text transform="translate(258.59,121.90) scale(0.9050,1)" font-size="32.5" fill="#ffffff" stroke="#323d4e" stroke-width="0.65">have</text>
<text transform="translate(329.34,121.90) scale(0.9297,1)" font-size="32.5" fill="#ffffff" stroke="#323d4e" stroke-width="0.65">broken</text>
<text transform="translate(427.80,121.90) scale(0.9101,1)" font-size="32.5" fill="#ffffff" stroke="#323d4e" stroke-width="0.65">their</text>
<text transform="translate(496.20,121.90) scale(0.9251,1)" font-size="32.5" fill="#ffffff" stroke="#323d4e" stroke-width="0.65">temperature</text>
<text transform="translate(83.09,158.70) scale(0.9037,1)" font-size="32.5" fill="#ffffff" stroke="#323d4e" stroke-width="0.65">records</text>
<text transform="translate(190.40,158.70) scale(0.8851,1)" font-size="32.5" fill="#ffffff" stroke="#323d4e" stroke-width="0.65">since</text>
<text transform="translate(264.02,158.70) scale(0.9792,1)" font-size="32.5" fill="#ffffff" stroke="#323d4e" stroke-width="0.65">2011</text>
<text transform="translate(87.71,203.50) scale(0.8863,1)" font-size="35" font-weight="bold" fill="#ee4b28">2011</text>
<text transform="translate(176.50,198.80) scale(0.7884,1)" font-size="20.5" font-weight="bold" fill="#e9c977">95°F</text>
<text transform="translate(320.85,199.00) scale(0.7540,1)" font-size="21" font-weight="bold" fill="#ee4b28">129°F</text>
<text transform="translate(476.05,409.60) scale(0.7478,1)" font-size="29.6" font-weight="bold" fill="#ee4b28">Kuwait</text>
<text transform="translate(476.09,431.80) scale(0.7137,1)" font-size="21.5" fill="#ee4b28">127.9°F</text>
<text transform="translate(87.50,579.50) scale(0.7316,1)" font-size="24.7" font-weight="bold" fill="#ffffff">Top</text>
<text transform="translate(127.70,579.50) scale(0.9154,1)" font-size="24.7" font-weight="bold" fill="#ffffff">3</text>
<text transform="translate(146.23,579.50) scale(0.8699,1)" font-size="24.7" font-weight="bold" fill="#ffffff">record-breakers:</text>
<text transform="translate(107.12,610.00) scale(0.7831,1)" font-size="22.5" fill="#ffffff">Mitribah,</text>
<text transform="translate(181.35,610.00) scale(0.8457,1)" font-size="22.5" fill="#ffffff">Kuwait</text>
<text transform="translate(107.12,636.00) scale(0.7796,1)" font-size="22.5" fill="#ffffff">Dehloran,</text>
<text transform="translate(189.07,636.00) scale(0.8164,1)" font-size="22.5" fill="#ffffff">Iran</text>
<text transform="translate(107.09,662.00) scale(0.8149,1)" font-size="22.5" fill="#ffffff">Nassirya</text>
<text transform="translate(183.90,662.00) scale(0.8349,1)" font-size="22.5" fill="#ffffff">Tallil</text>
<text transform="translate(223.70,662.00) scale(0.7959,1)" font-size="22.5" fill="#ffffff">Airbase,</text>
<text transform="translate(294.71,662.00) scale(0.7971,1)" font-size="22.5" fill="#ffffff">Iraq</text>
<text transform="translate(367.70,610.00) scale(0.6995,1)" font-size="23.5" fill="#ffffff">127.9°F</text>
<text transform="translate(367.70,636.00) scale(0.6995,1)" font-size="23.5" fill="#ffffff">127.4°F</text>
<text transform="translate(367.70,662.00) scale(0.6995,1)" font-size="23.5" fill="#ffffff">127.4°F</text>
<text transform="translate(27.80,160.25) rotate(90) scale(0.8481,1)" font-size="15" font-weight="bold" fill="#ffffff">KAITLYN</text>
<text transform="translate(27.80,219.30) rotate(90) scale(0.7994,1)" font-size="15" font-weight="bold" fill="#ffffff">KELLY</text>
<text transform="translate(27.80,274.90) rotate(90) scale(0.7539,1)" font-size="15" font-weight="bold" fill="#ffffff">SOURCE:</text>
<text transform="translate(27.80,336.31) rotate(90) scale(0.7940,1)" font-size="15" font-weight="bold" fill="#ffffff">MHERRERA.</text>
<text transform="translate(27.80,413.90) rotate(90) scale(0.7493,1)" font-size="15" font-weight="bold" fill="#ffffff">ORG,</text>
<text transform="translate(27.80,446.30) rotate(90) scale(0.8604,1)" font-size="15" font-weight="bold" fill="#ffffff">VOCATIV</text>
<text transform="translate(27.80,508.20) rotate(90) scale(0.8447,1)" font-size="15" font-weight="bold" fill="#ffffff">ANALYSIS</text>
<text transform="translate(25.10,49.30) rotate(90) scale(0.9322,1)" font-size="31" font-weight="bold" fill="#ef4123" stroke="#ef4123" stroke-width="1.1" stroke-linejoin="round">vocativ</text>
<line x1="28.6" y1="263.8" x2="38.4" y2="270.3" stroke="#fff" stroke-width="1.3"/>
</svg>
</body></html>
